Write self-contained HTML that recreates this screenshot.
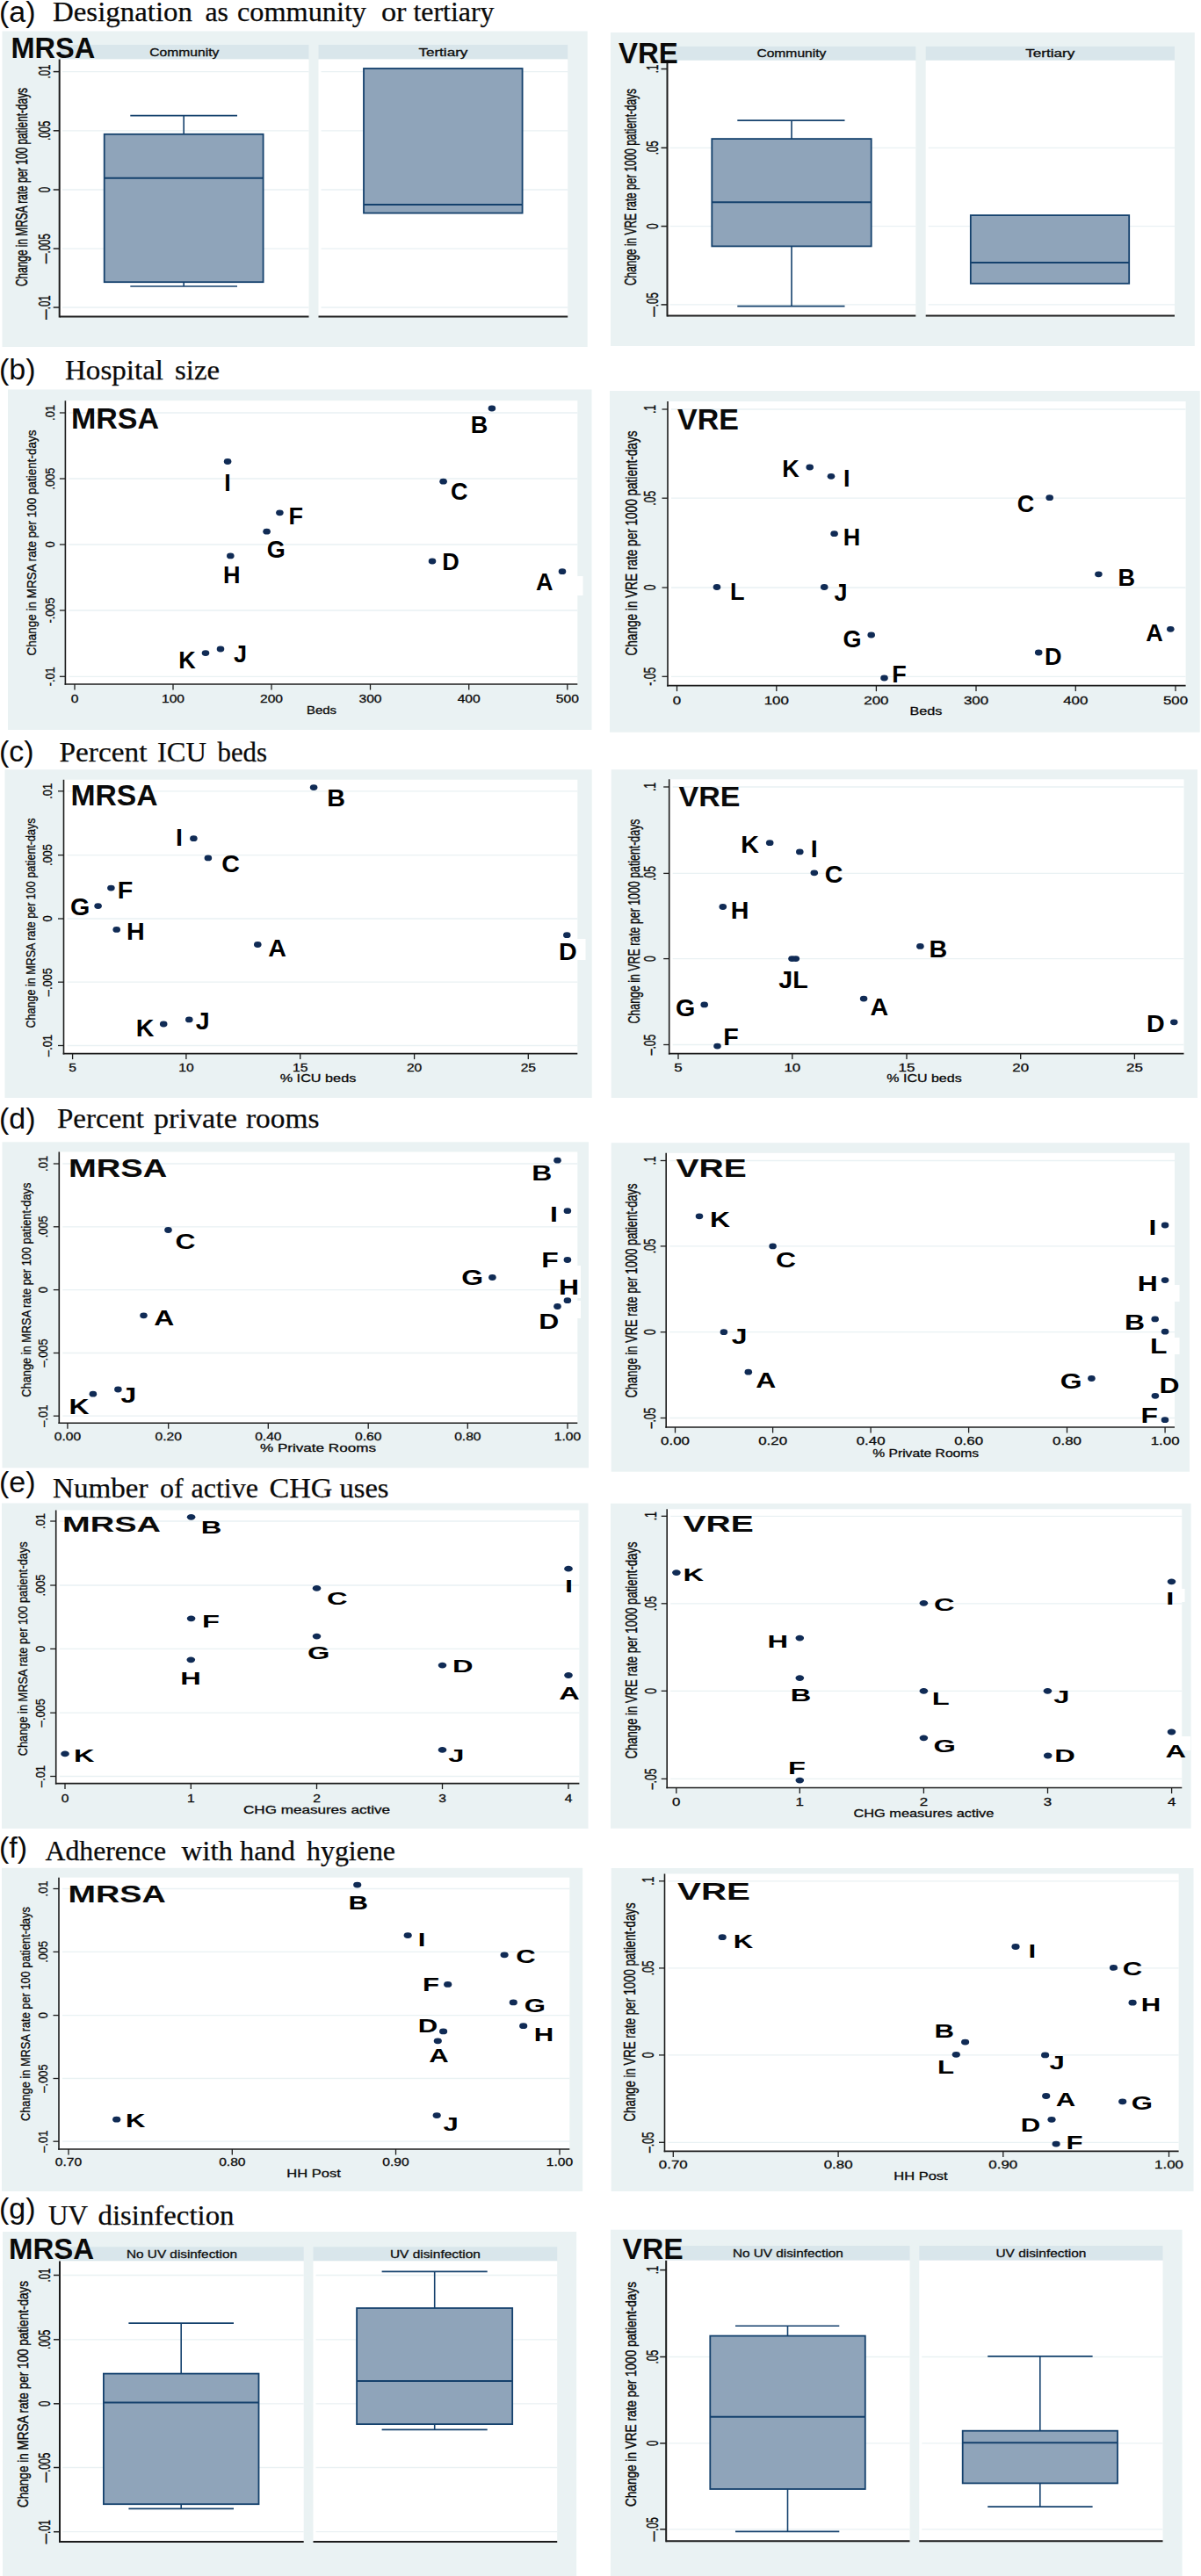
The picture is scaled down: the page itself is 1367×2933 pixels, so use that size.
<!DOCTYPE html>
<html lang="en"><head><meta charset="utf-8"><title>Figure: change in MRSA and VRE rates by hospital characteristics</title>
<style>html,body{margin:0;padding:0;background:#fff}body{width:1367px;height:2933px;overflow:hidden}text{white-space:pre}</style></head>
<body>
<svg width="1367" height="2933" viewBox="0 0 1367 2933" style="display:block">
<g>
<rect x="0" y="0" width="1367" height="2933" fill="#ffffff"/>
<text transform="translate(-1.0,25.3)" font-family="Liberation Sans, Arial, sans-serif" font-size="34" text-anchor="start" fill="#0a0a0a" >(a)</text>
<text x="60.0" y="24.0" font-family="Liberation Serif, Times New Roman, serif" font-size="32" fill="#0a0a0a" stroke="#0a0a0a" stroke-width="0.25" textLength="159.0" lengthAdjust="spacingAndGlyphs">Designation</text>
<text x="233.5" y="24.0" font-family="Liberation Serif, Times New Roman, serif" font-size="32" fill="#0a0a0a" stroke="#0a0a0a" stroke-width="0.25" textLength="26.5" lengthAdjust="spacingAndGlyphs">as</text>
<text x="270.0" y="24.0" font-family="Liberation Serif, Times New Roman, serif" font-size="32" fill="#0a0a0a" stroke="#0a0a0a" stroke-width="0.25" textLength="147.0" lengthAdjust="spacingAndGlyphs">community</text>
<text x="434.0" y="24.0" font-family="Liberation Serif, Times New Roman, serif" font-size="32" fill="#0a0a0a" stroke="#0a0a0a" stroke-width="0.25" textLength="28.5" lengthAdjust="spacingAndGlyphs">or</text>
<text x="470.5" y="24.0" font-family="Liberation Serif, Times New Roman, serif" font-size="32" fill="#0a0a0a" stroke="#0a0a0a" stroke-width="0.25" textLength="92.0" lengthAdjust="spacingAndGlyphs">tertiary</text>
<text transform="translate(-1.0,431.5)" font-family="Liberation Sans, Arial, sans-serif" font-size="34" text-anchor="start" fill="#0a0a0a" >(b)</text>
<text x="74.0" y="431.5" font-family="Liberation Serif, Times New Roman, serif" font-size="32" fill="#0a0a0a" stroke="#0a0a0a" stroke-width="0.25" textLength="112.0" lengthAdjust="spacingAndGlyphs">Hospital</text>
<text x="199.0" y="431.5" font-family="Liberation Serif, Times New Roman, serif" font-size="32" fill="#0a0a0a" stroke="#0a0a0a" stroke-width="0.25" textLength="51.0" lengthAdjust="spacingAndGlyphs">size</text>
<text transform="translate(-1.0,867.0)" font-family="Liberation Sans, Arial, sans-serif" font-size="34" text-anchor="start" fill="#0a0a0a" >(c)</text>
<text x="67.5" y="867.0" font-family="Liberation Serif, Times New Roman, serif" font-size="32" fill="#0a0a0a" stroke="#0a0a0a" stroke-width="0.25" textLength="100.0" lengthAdjust="spacingAndGlyphs">Percent</text>
<text x="179.0" y="867.0" font-family="Liberation Serif, Times New Roman, serif" font-size="32" fill="#0a0a0a" stroke="#0a0a0a" stroke-width="0.25" textLength="56.0" lengthAdjust="spacingAndGlyphs">ICU</text>
<text x="247.5" y="867.0" font-family="Liberation Serif, Times New Roman, serif" font-size="32" fill="#0a0a0a" stroke="#0a0a0a" stroke-width="0.25" textLength="56.5" lengthAdjust="spacingAndGlyphs">beds</text>
<text transform="translate(-1.0,1285.0)" font-family="Liberation Sans, Arial, sans-serif" font-size="34" text-anchor="start" fill="#0a0a0a" >(d)</text>
<text x="65.0" y="1284.0" font-family="Liberation Serif, Times New Roman, serif" font-size="32" fill="#0a0a0a" stroke="#0a0a0a" stroke-width="0.25" textLength="99.0" lengthAdjust="spacingAndGlyphs">Percent</text>
<text x="175.0" y="1284.0" font-family="Liberation Serif, Times New Roman, serif" font-size="32" fill="#0a0a0a" stroke="#0a0a0a" stroke-width="0.25" textLength="95.0" lengthAdjust="spacingAndGlyphs">private</text>
<text x="280.0" y="1284.0" font-family="Liberation Serif, Times New Roman, serif" font-size="32" fill="#0a0a0a" stroke="#0a0a0a" stroke-width="0.25" textLength="83.5" lengthAdjust="spacingAndGlyphs">rooms</text>
<text transform="translate(-1.0,1699.0)" font-family="Liberation Sans, Arial, sans-serif" font-size="34" text-anchor="start" fill="#0a0a0a" >(e)</text>
<text x="60.0" y="1705.0" font-family="Liberation Serif, Times New Roman, serif" font-size="32" fill="#0a0a0a" stroke="#0a0a0a" stroke-width="0.25" textLength="108.5" lengthAdjust="spacingAndGlyphs">Number</text>
<text x="182.0" y="1705.0" font-family="Liberation Serif, Times New Roman, serif" font-size="32" fill="#0a0a0a" stroke="#0a0a0a" stroke-width="0.25" textLength="26.7" lengthAdjust="spacingAndGlyphs">of</text>
<text x="217.5" y="1705.0" font-family="Liberation Serif, Times New Roman, serif" font-size="32" fill="#0a0a0a" stroke="#0a0a0a" stroke-width="0.25" textLength="76.5" lengthAdjust="spacingAndGlyphs">active</text>
<text x="306.5" y="1705.0" font-family="Liberation Serif, Times New Roman, serif" font-size="32" fill="#0a0a0a" stroke="#0a0a0a" stroke-width="0.25" textLength="72.0" lengthAdjust="spacingAndGlyphs">CHG</text>
<text x="386.5" y="1705.0" font-family="Liberation Serif, Times New Roman, serif" font-size="32" fill="#0a0a0a" stroke="#0a0a0a" stroke-width="0.25" textLength="56.0" lengthAdjust="spacingAndGlyphs">uses</text>
<text transform="translate(-1.0,2115.0)" font-family="Liberation Sans, Arial, sans-serif" font-size="34" text-anchor="start" fill="#0a0a0a" >(f)</text>
<text x="51.5" y="2117.5" font-family="Liberation Serif, Times New Roman, serif" font-size="32" fill="#0a0a0a" stroke="#0a0a0a" stroke-width="0.25" textLength="137.5" lengthAdjust="spacingAndGlyphs">Adherence</text>
<text x="206.5" y="2117.5" font-family="Liberation Serif, Times New Roman, serif" font-size="32" fill="#0a0a0a" stroke="#0a0a0a" stroke-width="0.25" textLength="58.5" lengthAdjust="spacingAndGlyphs">with</text>
<text x="273.0" y="2117.5" font-family="Liberation Serif, Times New Roman, serif" font-size="32" fill="#0a0a0a" stroke="#0a0a0a" stroke-width="0.25" textLength="63.0" lengthAdjust="spacingAndGlyphs">hand</text>
<text x="349.0" y="2117.5" font-family="Liberation Serif, Times New Roman, serif" font-size="32" fill="#0a0a0a" stroke="#0a0a0a" stroke-width="0.25" textLength="101.0" lengthAdjust="spacingAndGlyphs">hygiene</text>
<text transform="translate(-1.0,2526.0)" font-family="Liberation Sans, Arial, sans-serif" font-size="34" text-anchor="start" fill="#0a0a0a" >(g)</text>
<text x="55.0" y="2532.5" font-family="Liberation Serif, Times New Roman, serif" font-size="32" fill="#0a0a0a" stroke="#0a0a0a" stroke-width="0.25" textLength="45.0" lengthAdjust="spacingAndGlyphs">UV</text>
<text x="111.5" y="2532.5" font-family="Liberation Serif, Times New Roman, serif" font-size="32" fill="#0a0a0a" stroke="#0a0a0a" stroke-width="0.25" textLength="155.0" lengthAdjust="spacingAndGlyphs">disinfection</text>
<rect x="2.5" y="35.5" width="666.2" height="359.5" fill="#eaf2f3" />
<rect x="68.0" y="51.0" width="283.5" height="16.5" fill="#d9e6eb" />
<rect x="68.0" y="67.5" width="283.5" height="293.0" fill="#ffffff" />
<line x1="71.0" y1="81.6" x2="351.5" y2="81.6" stroke="#e9f1f3" stroke-width="1.3"/>
<line x1="71.0" y1="148.8" x2="351.5" y2="148.8" stroke="#e9f1f3" stroke-width="1.3"/>
<line x1="71.0" y1="216.0" x2="351.5" y2="216.0" stroke="#e9f1f3" stroke-width="1.3"/>
<line x1="71.0" y1="283.1" x2="351.5" y2="283.1" stroke="#e9f1f3" stroke-width="1.3"/>
<line x1="71.0" y1="350.0" x2="351.5" y2="350.0" stroke="#e9f1f3" stroke-width="1.3"/>
<rect x="362.5" y="51.0" width="283.7" height="16.5" fill="#d9e6eb" />
<rect x="362.5" y="67.5" width="283.7" height="293.0" fill="#ffffff" />
<line x1="365.5" y1="81.6" x2="646.2" y2="81.6" stroke="#e9f1f3" stroke-width="1.3"/>
<line x1="365.5" y1="148.8" x2="646.2" y2="148.8" stroke="#e9f1f3" stroke-width="1.3"/>
<line x1="365.5" y1="216.0" x2="646.2" y2="216.0" stroke="#e9f1f3" stroke-width="1.3"/>
<line x1="365.5" y1="283.1" x2="646.2" y2="283.1" stroke="#e9f1f3" stroke-width="1.3"/>
<line x1="365.5" y1="350.0" x2="646.2" y2="350.0" stroke="#e9f1f3" stroke-width="1.3"/>
<line x1="209.2" y1="131.6" x2="209.2" y2="152.8" stroke="#14416d" stroke-width="1.6"/>
<line x1="148.3" y1="131.6" x2="270.0" y2="131.6" stroke="#14416d" stroke-width="1.6"/>
<line x1="209.2" y1="321.2" x2="209.2" y2="326.0" stroke="#14416d" stroke-width="1.6"/>
<line x1="148.3" y1="326.0" x2="270.0" y2="326.0" stroke="#14416d" stroke-width="1.6"/>
<rect x="118.7" y="152.8" width="180.9" height="168.4" fill="#8fa4ba" stroke="#14416d" stroke-width="1.8"/>
<line x1="118.7" y1="202.8" x2="299.6" y2="202.8" stroke="#14416d" stroke-width="2"/>
<rect x="414.0" y="78.0" width="180.6" height="164.6" fill="#8fa4ba" stroke="#14416d" stroke-width="1.8"/>
<line x1="414.0" y1="233.0" x2="594.6" y2="233.0" stroke="#14416d" stroke-width="2"/>
<line x1="68.0" y1="360.5" x2="351.5" y2="360.5" stroke="#1c1c1c" stroke-width="2"/>
<text x="209.8" y="63.5" font-family="Liberation Sans, Arial, sans-serif" font-size="12" text-anchor="middle" fill="#111" textLength="79" lengthAdjust="spacingAndGlyphs" stroke="#0a0a0a" stroke-width="0.3">Community</text>
<line x1="362.5" y1="360.5" x2="646.2" y2="360.5" stroke="#1c1c1c" stroke-width="2"/>
<text x="504.4" y="63.5" font-family="Liberation Sans, Arial, sans-serif" font-size="12" text-anchor="middle" fill="#111" textLength="56" lengthAdjust="spacingAndGlyphs" stroke="#0a0a0a" stroke-width="0.3">Tertiary</text>
<line x1="67.7" y1="67.5" x2="67.7" y2="361.5" stroke="#1c1c1c" stroke-width="2"/>
<line x1="60.7" y1="81.6" x2="67.7" y2="81.6" stroke="#1c1c1c" stroke-width="1.5"/>
<text transform="translate(57.0,81.6) rotate(-90) scale(0.880,1.400)" font-family="Liberation Sans, Arial, sans-serif" font-size="13" text-anchor="middle" fill="#0a0a0a" stroke="#0a0a0a" stroke-width="0.3">.01</text>
<line x1="60.7" y1="148.8" x2="67.7" y2="148.8" stroke="#1c1c1c" stroke-width="1.5"/>
<text transform="translate(57.0,148.8) rotate(-90) scale(0.880,1.400)" font-family="Liberation Sans, Arial, sans-serif" font-size="13" text-anchor="middle" fill="#0a0a0a" stroke="#0a0a0a" stroke-width="0.3">.005</text>
<line x1="60.7" y1="216.0" x2="67.7" y2="216.0" stroke="#1c1c1c" stroke-width="1.5"/>
<text transform="translate(57.0,216.0) rotate(-90) scale(0.880,1.400)" font-family="Liberation Sans, Arial, sans-serif" font-size="13" text-anchor="middle" fill="#0a0a0a" stroke="#0a0a0a" stroke-width="0.3">0</text>
<line x1="60.7" y1="283.1" x2="67.7" y2="283.1" stroke="#1c1c1c" stroke-width="1.5"/>
<text transform="translate(57.0,283.1) rotate(-90) scale(0.880,1.400)" font-family="Liberation Sans, Arial, sans-serif" font-size="13" text-anchor="middle" fill="#0a0a0a" stroke="#0a0a0a" stroke-width="0.3">—.005</text>
<line x1="60.7" y1="350.0" x2="67.7" y2="350.0" stroke="#1c1c1c" stroke-width="1.5"/>
<text transform="translate(57.0,350.0) rotate(-90) scale(0.880,1.400)" font-family="Liberation Sans, Arial, sans-serif" font-size="13" text-anchor="middle" fill="#0a0a0a" stroke="#0a0a0a" stroke-width="0.3">—.01</text>
<text transform="translate(30.5,213.0) scale(1.4,1) rotate(-90)" font-family="Liberation Sans, Arial, sans-serif" font-size="13" text-anchor="middle" fill="#0a0a0a" textLength="226" lengthAdjust="spacingAndGlyphs" stroke="#0a0a0a" stroke-width="0.35">Change in MRSA rate per 100 patient-days</text>
<text transform="translate(12.5,65.5)" font-family="Liberation Sans, Arial, sans-serif" font-size="32.5" font-weight="bold" text-anchor="start" fill="#0a0a0a" >MRSA</text>
<rect x="695.0" y="37.0" width="664.8" height="357.0" fill="#eaf2f3" />
<rect x="759.5" y="52.9" width="282.8" height="15.9" fill="#d9e6eb" />
<rect x="759.5" y="68.8" width="282.8" height="290.6" fill="#ffffff" />
<line x1="762.5" y1="168.3" x2="1042.3" y2="168.3" stroke="#e9f1f3" stroke-width="1.3"/>
<line x1="762.5" y1="257.6" x2="1042.3" y2="257.6" stroke="#e9f1f3" stroke-width="1.3"/>
<line x1="762.5" y1="346.9" x2="1042.3" y2="346.9" stroke="#e9f1f3" stroke-width="1.3"/>
<rect x="1053.7" y="52.9" width="283.3" height="15.9" fill="#d9e6eb" />
<rect x="1053.7" y="68.8" width="283.3" height="290.6" fill="#ffffff" />
<line x1="1056.7" y1="168.3" x2="1337.0" y2="168.3" stroke="#e9f1f3" stroke-width="1.3"/>
<line x1="1056.7" y1="257.6" x2="1337.0" y2="257.6" stroke="#e9f1f3" stroke-width="1.3"/>
<line x1="1056.7" y1="346.9" x2="1337.0" y2="346.9" stroke="#e9f1f3" stroke-width="1.3"/>
<line x1="901.0" y1="137.1" x2="901.0" y2="158.1" stroke="#14416d" stroke-width="1.6"/>
<line x1="839.3" y1="137.1" x2="961.5" y2="137.1" stroke="#14416d" stroke-width="1.6"/>
<line x1="901.0" y1="280.4" x2="901.0" y2="348.6" stroke="#14416d" stroke-width="1.6"/>
<line x1="839.3" y1="348.6" x2="961.5" y2="348.6" stroke="#14416d" stroke-width="1.6"/>
<rect x="810.3" y="158.1" width="181.4" height="122.3" fill="#8fa4ba" stroke="#14416d" stroke-width="1.8"/>
<line x1="810.3" y1="230.3" x2="991.7" y2="230.3" stroke="#14416d" stroke-width="2"/>
<rect x="1104.8" y="245.1" width="180.4" height="77.7" fill="#8fa4ba" stroke="#14416d" stroke-width="1.8"/>
<line x1="1104.8" y1="299.1" x2="1285.2" y2="299.1" stroke="#14416d" stroke-width="2"/>
<line x1="759.5" y1="359.4" x2="1042.3" y2="359.4" stroke="#1c1c1c" stroke-width="2"/>
<text x="900.9" y="65.1" font-family="Liberation Sans, Arial, sans-serif" font-size="12" text-anchor="middle" fill="#111" textLength="79" lengthAdjust="spacingAndGlyphs" stroke="#0a0a0a" stroke-width="0.3">Community</text>
<line x1="1053.7" y1="359.4" x2="1337.0" y2="359.4" stroke="#1c1c1c" stroke-width="2"/>
<text x="1195.3" y="65.1" font-family="Liberation Sans, Arial, sans-serif" font-size="12" text-anchor="middle" fill="#111" textLength="56" lengthAdjust="spacingAndGlyphs" stroke="#0a0a0a" stroke-width="0.3">Tertiary</text>
<line x1="759.5" y1="68.8" x2="759.5" y2="360.4" stroke="#1c1c1c" stroke-width="2"/>
<line x1="752.5" y1="78.5" x2="759.5" y2="78.5" stroke="#1c1c1c" stroke-width="1.5"/>
<text transform="translate(749.1,78.5) rotate(-90) scale(0.880,1.400)" font-family="Liberation Sans, Arial, sans-serif" font-size="13" text-anchor="middle" fill="#0a0a0a" stroke="#0a0a0a" stroke-width="0.3">.1</text>
<line x1="752.5" y1="168.3" x2="759.5" y2="168.3" stroke="#1c1c1c" stroke-width="1.5"/>
<text transform="translate(749.1,168.3) rotate(-90) scale(0.880,1.400)" font-family="Liberation Sans, Arial, sans-serif" font-size="13" text-anchor="middle" fill="#0a0a0a" stroke="#0a0a0a" stroke-width="0.3">.05</text>
<line x1="752.5" y1="257.6" x2="759.5" y2="257.6" stroke="#1c1c1c" stroke-width="1.5"/>
<text transform="translate(749.1,257.6) rotate(-90) scale(0.880,1.400)" font-family="Liberation Sans, Arial, sans-serif" font-size="13" text-anchor="middle" fill="#0a0a0a" stroke="#0a0a0a" stroke-width="0.3">0</text>
<line x1="752.5" y1="346.9" x2="759.5" y2="346.9" stroke="#1c1c1c" stroke-width="1.5"/>
<text transform="translate(749.1,346.9) rotate(-90) scale(0.880,1.400)" font-family="Liberation Sans, Arial, sans-serif" font-size="13" text-anchor="middle" fill="#0a0a0a" stroke="#0a0a0a" stroke-width="0.3">—.05</text>
<text transform="translate(723.8,213.0) scale(1.4,1) rotate(-90)" font-family="Liberation Sans, Arial, sans-serif" font-size="13" text-anchor="middle" fill="#0a0a0a" textLength="224" lengthAdjust="spacingAndGlyphs" stroke="#0a0a0a" stroke-width="0.35">Change in VRE rate per 1000 patient-days</text>
<text transform="translate(704.0,72.0)" font-family="Liberation Sans, Arial, sans-serif" font-size="33" font-weight="bold" text-anchor="start" fill="#0a0a0a" >VRE</text>
<rect x="3.0" y="2541.0" width="653.2" height="392.0" fill="#eaf2f3" />
<rect x="68.3" y="2558.2" width="277.4" height="16.2" fill="#d9e6eb" />
<rect x="68.3" y="2574.4" width="277.4" height="319.6" fill="#ffffff" />
<line x1="71.3" y1="2590.5" x2="345.7" y2="2590.5" stroke="#e9f1f3" stroke-width="1.3"/>
<line x1="71.3" y1="2663.8" x2="345.7" y2="2663.8" stroke="#e9f1f3" stroke-width="1.3"/>
<line x1="71.3" y1="2736.8" x2="345.7" y2="2736.8" stroke="#e9f1f3" stroke-width="1.3"/>
<line x1="71.3" y1="2809.5" x2="345.7" y2="2809.5" stroke="#e9f1f3" stroke-width="1.3"/>
<line x1="71.3" y1="2882.7" x2="345.7" y2="2882.7" stroke="#e9f1f3" stroke-width="1.3"/>
<rect x="356.5" y="2558.2" width="277.7" height="16.2" fill="#d9e6eb" />
<rect x="356.5" y="2574.4" width="277.7" height="319.6" fill="#ffffff" />
<line x1="359.5" y1="2590.5" x2="634.2" y2="2590.5" stroke="#e9f1f3" stroke-width="1.3"/>
<line x1="359.5" y1="2663.8" x2="634.2" y2="2663.8" stroke="#e9f1f3" stroke-width="1.3"/>
<line x1="359.5" y1="2736.8" x2="634.2" y2="2736.8" stroke="#e9f1f3" stroke-width="1.3"/>
<line x1="359.5" y1="2809.5" x2="634.2" y2="2809.5" stroke="#e9f1f3" stroke-width="1.3"/>
<line x1="359.5" y1="2882.7" x2="634.2" y2="2882.7" stroke="#e9f1f3" stroke-width="1.3"/>
<line x1="206.2" y1="2645.1" x2="206.2" y2="2702.6" stroke="#14416d" stroke-width="1.6"/>
<line x1="146.4" y1="2645.1" x2="266.0" y2="2645.1" stroke="#14416d" stroke-width="1.6"/>
<line x1="206.2" y1="2851.2" x2="206.2" y2="2856.4" stroke="#14416d" stroke-width="1.6"/>
<line x1="146.4" y1="2856.4" x2="266.0" y2="2856.4" stroke="#14416d" stroke-width="1.6"/>
<rect x="117.9" y="2702.6" width="176.6" height="148.6" fill="#8fa4ba" stroke="#14416d" stroke-width="1.8"/>
<line x1="117.9" y1="2735.6" x2="294.5" y2="2735.6" stroke="#14416d" stroke-width="2"/>
<line x1="494.7" y1="2586.4" x2="494.7" y2="2628.0" stroke="#14416d" stroke-width="1.6"/>
<line x1="434.6" y1="2586.4" x2="554.7" y2="2586.4" stroke="#14416d" stroke-width="1.6"/>
<line x1="494.7" y1="2760.1" x2="494.7" y2="2766.4" stroke="#14416d" stroke-width="1.6"/>
<line x1="434.6" y1="2766.4" x2="554.7" y2="2766.4" stroke="#14416d" stroke-width="1.6"/>
<rect x="406.1" y="2628.0" width="177.1" height="132.1" fill="#8fa4ba" stroke="#14416d" stroke-width="1.8"/>
<line x1="406.1" y1="2711.1" x2="583.2" y2="2711.1" stroke="#14416d" stroke-width="2"/>
<line x1="68.3" y1="2894.0" x2="345.7" y2="2894.0" stroke="#1c1c1c" stroke-width="2"/>
<text x="207.0" y="2570.6" font-family="Liberation Sans, Arial, sans-serif" font-size="13" text-anchor="middle" fill="#111" textLength="126" lengthAdjust="spacingAndGlyphs" stroke="#0a0a0a" stroke-width="0.3">No UV disinfection</text>
<line x1="356.5" y1="2894.0" x2="634.2" y2="2894.0" stroke="#1c1c1c" stroke-width="2"/>
<text x="495.4" y="2570.6" font-family="Liberation Sans, Arial, sans-serif" font-size="13" text-anchor="middle" fill="#111" textLength="103" lengthAdjust="spacingAndGlyphs" stroke="#0a0a0a" stroke-width="0.3">UV disinfection</text>
<line x1="68.0" y1="2574.4" x2="68.0" y2="2895.0" stroke="#1c1c1c" stroke-width="2"/>
<line x1="61.0" y1="2590.5" x2="68.0" y2="2590.5" stroke="#1c1c1c" stroke-width="1.5"/>
<text transform="translate(56.6,2590.5) rotate(-90) scale(0.880,1.350)" font-family="Liberation Sans, Arial, sans-serif" font-size="13" text-anchor="middle" fill="#0a0a0a" stroke="#0a0a0a" stroke-width="0.3">.01</text>
<line x1="61.0" y1="2663.8" x2="68.0" y2="2663.8" stroke="#1c1c1c" stroke-width="1.5"/>
<text transform="translate(56.6,2663.8) rotate(-90) scale(0.880,1.350)" font-family="Liberation Sans, Arial, sans-serif" font-size="13" text-anchor="middle" fill="#0a0a0a" stroke="#0a0a0a" stroke-width="0.3">.005</text>
<line x1="61.0" y1="2736.8" x2="68.0" y2="2736.8" stroke="#1c1c1c" stroke-width="1.5"/>
<text transform="translate(56.6,2736.8) rotate(-90) scale(0.880,1.350)" font-family="Liberation Sans, Arial, sans-serif" font-size="13" text-anchor="middle" fill="#0a0a0a" stroke="#0a0a0a" stroke-width="0.3">0</text>
<line x1="61.0" y1="2809.5" x2="68.0" y2="2809.5" stroke="#1c1c1c" stroke-width="1.5"/>
<text transform="translate(56.6,2809.5) rotate(-90) scale(0.880,1.350)" font-family="Liberation Sans, Arial, sans-serif" font-size="13" text-anchor="middle" fill="#0a0a0a" stroke="#0a0a0a" stroke-width="0.3">—.005</text>
<line x1="61.0" y1="2882.7" x2="68.0" y2="2882.7" stroke="#1c1c1c" stroke-width="1.5"/>
<text transform="translate(56.6,2882.7) rotate(-90) scale(0.880,1.350)" font-family="Liberation Sans, Arial, sans-serif" font-size="13" text-anchor="middle" fill="#0a0a0a" stroke="#0a0a0a" stroke-width="0.3">—.01</text>
<text transform="translate(31.7,2726.0) scale(1.25,1) rotate(-90)" font-family="Liberation Sans, Arial, sans-serif" font-size="13" text-anchor="middle" fill="#0a0a0a" textLength="258" lengthAdjust="spacingAndGlyphs" stroke="#0a0a0a" stroke-width="0.35">Change in MRSA rate per 100 patient-days</text>
<text transform="translate(10.0,2572.0)" font-family="Liberation Sans, Arial, sans-serif" font-size="33" font-weight="bold" text-anchor="start" fill="#0a0a0a" >MRSA</text>
<rect x="695.0" y="2538.7" width="650.6" height="394.3" fill="#eaf2f3" />
<rect x="758.2" y="2557.0" width="277.3" height="16.7" fill="#d9e6eb" />
<rect x="758.2" y="2573.7" width="277.3" height="319.6" fill="#ffffff" />
<line x1="761.2" y1="2683.5" x2="1035.5" y2="2683.5" stroke="#e9f1f3" stroke-width="1.3"/>
<line x1="761.2" y1="2781.9" x2="1035.5" y2="2781.9" stroke="#e9f1f3" stroke-width="1.3"/>
<line x1="761.2" y1="2879.8" x2="1035.5" y2="2879.8" stroke="#e9f1f3" stroke-width="1.3"/>
<rect x="1046.3" y="2557.0" width="277.2" height="16.7" fill="#d9e6eb" />
<rect x="1046.3" y="2573.7" width="277.2" height="319.6" fill="#ffffff" />
<line x1="1049.3" y1="2683.5" x2="1323.5" y2="2683.5" stroke="#e9f1f3" stroke-width="1.3"/>
<line x1="1049.3" y1="2781.9" x2="1323.5" y2="2781.9" stroke="#e9f1f3" stroke-width="1.3"/>
<line x1="1049.3" y1="2879.8" x2="1323.5" y2="2879.8" stroke="#e9f1f3" stroke-width="1.3"/>
<line x1="896.5" y1="2648.3" x2="896.5" y2="2659.6" stroke="#14416d" stroke-width="1.6"/>
<line x1="837.0" y1="2648.3" x2="955.3" y2="2648.3" stroke="#14416d" stroke-width="1.6"/>
<line x1="896.5" y1="2834.0" x2="896.5" y2="2882.4" stroke="#14416d" stroke-width="1.6"/>
<line x1="837.0" y1="2882.4" x2="955.3" y2="2882.4" stroke="#14416d" stroke-width="1.6"/>
<rect x="808.3" y="2659.6" width="176.5" height="174.4" fill="#8fa4ba" stroke="#14416d" stroke-width="1.8"/>
<line x1="808.3" y1="2751.8" x2="984.8" y2="2751.8" stroke="#14416d" stroke-width="2"/>
<line x1="1183.8" y1="2682.9" x2="1183.8" y2="2767.7" stroke="#14416d" stroke-width="1.6"/>
<line x1="1124.2" y1="2682.9" x2="1243.6" y2="2682.9" stroke="#14416d" stroke-width="1.6"/>
<line x1="1183.8" y1="2827.4" x2="1183.8" y2="2854.1" stroke="#14416d" stroke-width="1.6"/>
<line x1="1124.2" y1="2854.1" x2="1243.6" y2="2854.1" stroke="#14416d" stroke-width="1.6"/>
<rect x="1095.7" y="2767.7" width="176.3" height="59.7" fill="#8fa4ba" stroke="#14416d" stroke-width="1.8"/>
<line x1="1095.7" y1="2781.3" x2="1272.0" y2="2781.3" stroke="#14416d" stroke-width="2"/>
<line x1="758.2" y1="2893.3" x2="1035.5" y2="2893.3" stroke="#1c1c1c" stroke-width="2"/>
<text x="896.9" y="2569.7" font-family="Liberation Sans, Arial, sans-serif" font-size="13" text-anchor="middle" fill="#111" textLength="126" lengthAdjust="spacingAndGlyphs" stroke="#0a0a0a" stroke-width="0.3">No UV disinfection</text>
<line x1="1046.3" y1="2893.3" x2="1323.5" y2="2893.3" stroke="#1c1c1c" stroke-width="2"/>
<text x="1184.9" y="2569.7" font-family="Liberation Sans, Arial, sans-serif" font-size="13" text-anchor="middle" fill="#111" textLength="103" lengthAdjust="spacingAndGlyphs" stroke="#0a0a0a" stroke-width="0.3">UV disinfection</text>
<line x1="758.2" y1="2573.7" x2="758.2" y2="2894.3" stroke="#1c1c1c" stroke-width="2"/>
<line x1="751.2" y1="2584.6" x2="758.2" y2="2584.6" stroke="#1c1c1c" stroke-width="1.5"/>
<text transform="translate(748.9,2584.6) rotate(-90) scale(0.880,1.350)" font-family="Liberation Sans, Arial, sans-serif" font-size="13" text-anchor="middle" fill="#0a0a0a" stroke="#0a0a0a" stroke-width="0.3">.1</text>
<line x1="751.2" y1="2683.5" x2="758.2" y2="2683.5" stroke="#1c1c1c" stroke-width="1.5"/>
<text transform="translate(748.9,2683.5) rotate(-90) scale(0.880,1.350)" font-family="Liberation Sans, Arial, sans-serif" font-size="13" text-anchor="middle" fill="#0a0a0a" stroke="#0a0a0a" stroke-width="0.3">.05</text>
<line x1="751.2" y1="2781.9" x2="758.2" y2="2781.9" stroke="#1c1c1c" stroke-width="1.5"/>
<text transform="translate(748.9,2781.9) rotate(-90) scale(0.880,1.350)" font-family="Liberation Sans, Arial, sans-serif" font-size="13" text-anchor="middle" fill="#0a0a0a" stroke="#0a0a0a" stroke-width="0.3">0</text>
<line x1="751.2" y1="2879.8" x2="758.2" y2="2879.8" stroke="#1c1c1c" stroke-width="1.5"/>
<text transform="translate(748.9,2879.8) rotate(-90) scale(0.880,1.350)" font-family="Liberation Sans, Arial, sans-serif" font-size="13" text-anchor="middle" fill="#0a0a0a" stroke="#0a0a0a" stroke-width="0.3">—.05</text>
<text transform="translate(723.8,2726.0) scale(1.25,1) rotate(-90)" font-family="Liberation Sans, Arial, sans-serif" font-size="13" text-anchor="middle" fill="#0a0a0a" textLength="256" lengthAdjust="spacingAndGlyphs" stroke="#0a0a0a" stroke-width="0.35">Change in VRE rate per 1000 patient-days</text>
<text transform="translate(708.5,2572.0) scale(1.020,1.000)" font-family="Liberation Sans, Arial, sans-serif" font-size="33" font-weight="bold" text-anchor="start" fill="#0a0a0a" >VRE</text>
<rect x="9.0" y="443.5" width="664.5" height="387.5" fill="#eaf2f3" />
<rect x="74.4" y="456.2" width="582.9" height="322.8" fill="#ffffff" />
<line x1="78.4" y1="470.0" x2="657.3" y2="470.0" stroke="#e9f1f3" stroke-width="1.3"/>
<line x1="78.4" y1="545.0" x2="657.3" y2="545.0" stroke="#e9f1f3" stroke-width="1.3"/>
<line x1="78.4" y1="620.0" x2="657.3" y2="620.0" stroke="#e9f1f3" stroke-width="1.3"/>
<line x1="78.4" y1="695.0" x2="657.3" y2="695.0" stroke="#e9f1f3" stroke-width="1.3"/>
<line x1="78.4" y1="770.3" x2="657.3" y2="770.3" stroke="#e9f1f3" stroke-width="1.3"/>
<line x1="74.4" y1="456.2" x2="74.4" y2="779.8" stroke="#1c1c1c" stroke-width="1.6"/>
<line x1="73.6" y1="779.0" x2="657.3" y2="779.0" stroke="#1c1c1c" stroke-width="1.6"/>
<line x1="67.9" y1="470.0" x2="74.4" y2="470.0" stroke="#1c1c1c" stroke-width="1.3"/>
<text transform="translate(62.0,470.0) rotate(-90) scale(0.950,1.100)" font-family="Liberation Sans, Arial, sans-serif" font-size="13.5" text-anchor="middle" fill="#0a0a0a" stroke="#0a0a0a" stroke-width="0.3">.01</text>
<line x1="67.9" y1="545.0" x2="74.4" y2="545.0" stroke="#1c1c1c" stroke-width="1.3"/>
<text transform="translate(62.0,545.0) rotate(-90) scale(0.950,1.100)" font-family="Liberation Sans, Arial, sans-serif" font-size="13.5" text-anchor="middle" fill="#0a0a0a" stroke="#0a0a0a" stroke-width="0.3">.005</text>
<line x1="67.9" y1="620.0" x2="74.4" y2="620.0" stroke="#1c1c1c" stroke-width="1.3"/>
<text transform="translate(62.0,620.0) rotate(-90) scale(0.950,1.100)" font-family="Liberation Sans, Arial, sans-serif" font-size="13.5" text-anchor="middle" fill="#0a0a0a" stroke="#0a0a0a" stroke-width="0.3">0</text>
<line x1="67.9" y1="695.0" x2="74.4" y2="695.0" stroke="#1c1c1c" stroke-width="1.3"/>
<text transform="translate(62.0,695.0) rotate(-90) scale(0.950,1.100)" font-family="Liberation Sans, Arial, sans-serif" font-size="13.5" text-anchor="middle" fill="#0a0a0a" stroke="#0a0a0a" stroke-width="0.3">-.005</text>
<line x1="67.9" y1="770.3" x2="74.4" y2="770.3" stroke="#1c1c1c" stroke-width="1.3"/>
<text transform="translate(62.0,770.3) rotate(-90) scale(0.950,1.100)" font-family="Liberation Sans, Arial, sans-serif" font-size="13.5" text-anchor="middle" fill="#0a0a0a" stroke="#0a0a0a" stroke-width="0.3">-.01</text>
<line x1="85.0" y1="779.0" x2="85.0" y2="785.5" stroke="#1c1c1c" stroke-width="1.3"/>
<text transform="translate(85.0,800.0) scale(1.200,1.000)" font-family="Liberation Sans, Arial, sans-serif" font-size="13" text-anchor="middle" fill="#0a0a0a" stroke="#0a0a0a" stroke-width="0.3">0</text>
<line x1="197.0" y1="779.0" x2="197.0" y2="785.5" stroke="#1c1c1c" stroke-width="1.3"/>
<text transform="translate(197.0,800.0) scale(1.200,1.000)" font-family="Liberation Sans, Arial, sans-serif" font-size="13" text-anchor="middle" fill="#0a0a0a" stroke="#0a0a0a" stroke-width="0.3">100</text>
<line x1="309.0" y1="779.0" x2="309.0" y2="785.5" stroke="#1c1c1c" stroke-width="1.3"/>
<text transform="translate(309.0,800.0) scale(1.200,1.000)" font-family="Liberation Sans, Arial, sans-serif" font-size="13" text-anchor="middle" fill="#0a0a0a" stroke="#0a0a0a" stroke-width="0.3">200</text>
<line x1="421.5" y1="779.0" x2="421.5" y2="785.5" stroke="#1c1c1c" stroke-width="1.3"/>
<text transform="translate(421.5,800.0) scale(1.200,1.000)" font-family="Liberation Sans, Arial, sans-serif" font-size="13" text-anchor="middle" fill="#0a0a0a" stroke="#0a0a0a" stroke-width="0.3">300</text>
<line x1="533.7" y1="779.0" x2="533.7" y2="785.5" stroke="#1c1c1c" stroke-width="1.3"/>
<text transform="translate(533.7,800.0) scale(1.200,1.000)" font-family="Liberation Sans, Arial, sans-serif" font-size="13" text-anchor="middle" fill="#0a0a0a" stroke="#0a0a0a" stroke-width="0.3">400</text>
<line x1="645.8" y1="779.0" x2="645.8" y2="785.5" stroke="#1c1c1c" stroke-width="1.3"/>
<text transform="translate(645.8,800.0) scale(1.200,1.000)" font-family="Liberation Sans, Arial, sans-serif" font-size="13" text-anchor="middle" fill="#0a0a0a" stroke="#0a0a0a" stroke-width="0.3">500</text>
<text x="366.0" y="813.2" font-family="Liberation Sans, Arial, sans-serif" font-size="13" text-anchor="middle" fill="#0a0a0a" textLength="34" lengthAdjust="spacingAndGlyphs" stroke="#0a0a0a" stroke-width="0.3">Beds</text>
<text transform="translate(40.5,618.0) scale(1.100,1) rotate(-90)" font-family="Liberation Sans, Arial, sans-serif" font-size="13.5" text-anchor="middle" fill="#0a0a0a" textLength="257" lengthAdjust="spacingAndGlyphs" stroke="#0a0a0a" stroke-width="0.3">Change in MRSA rate per 100 patient-days</text>
<text transform="translate(81.0,487.8) scale(1.030,1.000)" font-family="Liberation Sans, Arial, sans-serif" font-size="33" font-weight="bold" text-anchor="start" fill="#0a0a0a" >MRSA</text>
<rect x="657.0" y="656.0" width="6.5" height="22.0" fill="#ffffff" />
<ellipse cx="559.9" cy="465.0" rx="4.3" ry="3.4" fill="#102b55"/>
<ellipse cx="259.1" cy="525.5" rx="4.3" ry="3.4" fill="#102b55"/>
<ellipse cx="504.6" cy="548.2" rx="4.3" ry="3.4" fill="#102b55"/>
<ellipse cx="318.4" cy="583.8" rx="4.3" ry="3.4" fill="#102b55"/>
<ellipse cx="303.6" cy="605.2" rx="4.3" ry="3.4" fill="#102b55"/>
<ellipse cx="262.3" cy="632.9" rx="4.3" ry="3.4" fill="#102b55"/>
<ellipse cx="492.0" cy="639.0" rx="4.3" ry="3.4" fill="#102b55"/>
<ellipse cx="640.0" cy="650.7" rx="4.3" ry="3.4" fill="#102b55"/>
<ellipse cx="251.0" cy="739.0" rx="4.3" ry="3.4" fill="#102b55"/>
<ellipse cx="234.0" cy="743.6" rx="4.3" ry="3.4" fill="#102b55"/>
<text transform="translate(545.6,492.8) scale(0.971,1.000)" font-family="Liberation Sans, Arial, sans-serif" font-size="27.825000000000003" font-weight="bold" text-anchor="middle" fill="#000" >B</text>
<text transform="translate(259.1,558.7) scale(0.971,1.000)" font-family="Liberation Sans, Arial, sans-serif" font-size="27.825000000000003" font-weight="bold" text-anchor="middle" fill="#000" >I</text>
<text transform="translate(522.8,569.1) scale(0.971,1.000)" font-family="Liberation Sans, Arial, sans-serif" font-size="27.825000000000003" font-weight="bold" text-anchor="middle" fill="#000" >C</text>
<text transform="translate(336.8,596.6) scale(0.971,1.000)" font-family="Liberation Sans, Arial, sans-serif" font-size="27.825000000000003" font-weight="bold" text-anchor="middle" fill="#000" >F</text>
<text transform="translate(314.2,634.5) scale(0.971,1.000)" font-family="Liberation Sans, Arial, sans-serif" font-size="27.825000000000003" font-weight="bold" text-anchor="middle" fill="#000" >G</text>
<text transform="translate(263.7,663.8) scale(0.971,1.000)" font-family="Liberation Sans, Arial, sans-serif" font-size="27.825000000000003" font-weight="bold" text-anchor="middle" fill="#000" >H</text>
<text transform="translate(513.0,648.5) scale(0.971,1.000)" font-family="Liberation Sans, Arial, sans-serif" font-size="27.825000000000003" font-weight="bold" text-anchor="middle" fill="#000" >D</text>
<text transform="translate(619.7,672.2) scale(0.971,1.000)" font-family="Liberation Sans, Arial, sans-serif" font-size="27.825000000000003" font-weight="bold" text-anchor="middle" fill="#000" >A</text>
<text transform="translate(273.4,754.2) scale(0.971,1.000)" font-family="Liberation Sans, Arial, sans-serif" font-size="27.825000000000003" font-weight="bold" text-anchor="middle" fill="#000" >J</text>
<text transform="translate(213.0,760.5) scale(0.971,1.000)" font-family="Liberation Sans, Arial, sans-serif" font-size="27.825000000000003" font-weight="bold" text-anchor="middle" fill="#000" >K</text>
<rect x="694.0" y="445.0" width="671.7" height="388.8" fill="#eaf2f3" />
<rect x="760.0" y="457.0" width="589.6" height="323.6" fill="#ffffff" />
<line x1="764.0" y1="466.0" x2="1349.6" y2="466.0" stroke="#e9f1f3" stroke-width="1.3"/>
<line x1="764.0" y1="567.2" x2="1349.6" y2="567.2" stroke="#e9f1f3" stroke-width="1.3"/>
<line x1="764.0" y1="669.0" x2="1349.6" y2="669.0" stroke="#e9f1f3" stroke-width="1.3"/>
<line x1="764.0" y1="770.3" x2="1349.6" y2="770.3" stroke="#e9f1f3" stroke-width="1.3"/>
<line x1="760.0" y1="457.0" x2="760.0" y2="781.4" stroke="#1c1c1c" stroke-width="1.6"/>
<line x1="759.2" y1="780.6" x2="1349.6" y2="780.6" stroke="#1c1c1c" stroke-width="1.6"/>
<line x1="753.5" y1="466.0" x2="760.0" y2="466.0" stroke="#1c1c1c" stroke-width="1.3"/>
<text transform="translate(745.5,466.0) rotate(-90) scale(0.900,1.300)" font-family="Liberation Sans, Arial, sans-serif" font-size="13.5" text-anchor="middle" fill="#0a0a0a" stroke="#0a0a0a" stroke-width="0.3">.1</text>
<line x1="753.5" y1="567.2" x2="760.0" y2="567.2" stroke="#1c1c1c" stroke-width="1.3"/>
<text transform="translate(745.5,567.2) rotate(-90) scale(0.900,1.300)" font-family="Liberation Sans, Arial, sans-serif" font-size="13.5" text-anchor="middle" fill="#0a0a0a" stroke="#0a0a0a" stroke-width="0.3">.05</text>
<line x1="753.5" y1="669.0" x2="760.0" y2="669.0" stroke="#1c1c1c" stroke-width="1.3"/>
<text transform="translate(745.5,669.0) rotate(-90) scale(0.900,1.300)" font-family="Liberation Sans, Arial, sans-serif" font-size="13.5" text-anchor="middle" fill="#0a0a0a" stroke="#0a0a0a" stroke-width="0.3">0</text>
<line x1="753.5" y1="770.3" x2="760.0" y2="770.3" stroke="#1c1c1c" stroke-width="1.3"/>
<text transform="translate(745.5,770.3) rotate(-90) scale(0.900,1.300)" font-family="Liberation Sans, Arial, sans-serif" font-size="13.5" text-anchor="middle" fill="#0a0a0a" stroke="#0a0a0a" stroke-width="0.3">-.05</text>
<line x1="770.5" y1="780.6" x2="770.5" y2="787.1" stroke="#1c1c1c" stroke-width="1.3"/>
<text transform="translate(770.5,802.0) scale(1.300,1.000)" font-family="Liberation Sans, Arial, sans-serif" font-size="13" text-anchor="middle" fill="#0a0a0a" stroke="#0a0a0a" stroke-width="0.3">0</text>
<line x1="883.8" y1="780.6" x2="883.8" y2="787.1" stroke="#1c1c1c" stroke-width="1.3"/>
<text transform="translate(883.8,802.0) scale(1.300,1.000)" font-family="Liberation Sans, Arial, sans-serif" font-size="13" text-anchor="middle" fill="#0a0a0a" stroke="#0a0a0a" stroke-width="0.3">100</text>
<line x1="997.4" y1="780.6" x2="997.4" y2="787.1" stroke="#1c1c1c" stroke-width="1.3"/>
<text transform="translate(997.4,802.0) scale(1.300,1.000)" font-family="Liberation Sans, Arial, sans-serif" font-size="13" text-anchor="middle" fill="#0a0a0a" stroke="#0a0a0a" stroke-width="0.3">200</text>
<line x1="1111.0" y1="780.6" x2="1111.0" y2="787.1" stroke="#1c1c1c" stroke-width="1.3"/>
<text transform="translate(1111.0,802.0) scale(1.300,1.000)" font-family="Liberation Sans, Arial, sans-serif" font-size="13" text-anchor="middle" fill="#0a0a0a" stroke="#0a0a0a" stroke-width="0.3">300</text>
<line x1="1224.3" y1="780.6" x2="1224.3" y2="787.1" stroke="#1c1c1c" stroke-width="1.3"/>
<text transform="translate(1224.3,802.0) scale(1.300,1.000)" font-family="Liberation Sans, Arial, sans-serif" font-size="13" text-anchor="middle" fill="#0a0a0a" stroke="#0a0a0a" stroke-width="0.3">400</text>
<line x1="1338.0" y1="780.6" x2="1338.0" y2="787.1" stroke="#1c1c1c" stroke-width="1.3"/>
<text transform="translate(1338.0,802.0) scale(1.300,1.000)" font-family="Liberation Sans, Arial, sans-serif" font-size="13" text-anchor="middle" fill="#0a0a0a" stroke="#0a0a0a" stroke-width="0.3">500</text>
<text x="1054.0" y="814.3" font-family="Liberation Sans, Arial, sans-serif" font-size="13" text-anchor="middle" fill="#0a0a0a" textLength="37" lengthAdjust="spacingAndGlyphs" stroke="#0a0a0a" stroke-width="0.3">Beds</text>
<text transform="translate(724.9,618.5) scale(1.300,1) rotate(-90)" font-family="Liberation Sans, Arial, sans-serif" font-size="13.5" text-anchor="middle" fill="#0a0a0a" textLength="256" lengthAdjust="spacingAndGlyphs" stroke="#0a0a0a" stroke-width="0.3">Change in VRE rate per 1000 patient-days</text>
<text transform="translate(771.0,489.0) scale(1.030,1.000)" font-family="Liberation Sans, Arial, sans-serif" font-size="33" font-weight="bold" text-anchor="start" fill="#0a0a0a" >VRE</text>
<ellipse cx="921.7" cy="532.0" rx="4.3" ry="3.4" fill="#102b55"/>
<ellipse cx="946.0" cy="542.3" rx="4.3" ry="3.4" fill="#102b55"/>
<ellipse cx="1194.7" cy="566.7" rx="4.3" ry="3.4" fill="#102b55"/>
<ellipse cx="949.6" cy="607.7" rx="4.3" ry="3.4" fill="#102b55"/>
<ellipse cx="1250.4" cy="653.8" rx="4.3" ry="3.4" fill="#102b55"/>
<ellipse cx="816.0" cy="668.5" rx="4.3" ry="3.4" fill="#102b55"/>
<ellipse cx="938.2" cy="668.5" rx="4.3" ry="3.4" fill="#102b55"/>
<ellipse cx="1332.3" cy="716.3" rx="4.3" ry="3.4" fill="#102b55"/>
<ellipse cx="991.7" cy="723.0" rx="4.3" ry="3.4" fill="#102b55"/>
<ellipse cx="1182.2" cy="743.0" rx="4.3" ry="3.4" fill="#102b55"/>
<ellipse cx="1006.5" cy="772.0" rx="4.3" ry="3.4" fill="#102b55"/>
<text transform="translate(900.0,543.3) scale(0.971,1.000)" font-family="Liberation Sans, Arial, sans-serif" font-size="27.825000000000003" font-weight="bold" text-anchor="middle" fill="#000" >K</text>
<text transform="translate(963.8,554.1) scale(0.971,1.000)" font-family="Liberation Sans, Arial, sans-serif" font-size="27.825000000000003" font-weight="bold" text-anchor="middle" fill="#000" >I</text>
<text transform="translate(1167.4,582.5) scale(0.971,1.000)" font-family="Liberation Sans, Arial, sans-serif" font-size="27.825000000000003" font-weight="bold" text-anchor="middle" fill="#000" >C</text>
<text transform="translate(969.5,621.2) scale(0.971,1.000)" font-family="Liberation Sans, Arial, sans-serif" font-size="27.825000000000003" font-weight="bold" text-anchor="middle" fill="#000" >H</text>
<text transform="translate(1282.3,667.2) scale(0.971,1.000)" font-family="Liberation Sans, Arial, sans-serif" font-size="27.825000000000003" font-weight="bold" text-anchor="middle" fill="#000" >B</text>
<text transform="translate(839.3,683.2) scale(0.971,1.000)" font-family="Liberation Sans, Arial, sans-serif" font-size="27.825000000000003" font-weight="bold" text-anchor="middle" fill="#000" >L</text>
<text transform="translate(957.0,684.3) scale(0.971,1.000)" font-family="Liberation Sans, Arial, sans-serif" font-size="27.825000000000003" font-weight="bold" text-anchor="middle" fill="#000" >J</text>
<text transform="translate(1314.0,730.4) scale(0.971,1.000)" font-family="Liberation Sans, Arial, sans-serif" font-size="27.825000000000003" font-weight="bold" text-anchor="middle" fill="#000" >A</text>
<text transform="translate(970.0,737.2) scale(0.971,1.000)" font-family="Liberation Sans, Arial, sans-serif" font-size="27.825000000000003" font-weight="bold" text-anchor="middle" fill="#000" >G</text>
<text transform="translate(1198.7,756.5) scale(0.971,1.000)" font-family="Liberation Sans, Arial, sans-serif" font-size="27.825000000000003" font-weight="bold" text-anchor="middle" fill="#000" >D</text>
<text transform="translate(1023.5,776.5) scale(0.971,1.000)" font-family="Liberation Sans, Arial, sans-serif" font-size="27.825000000000003" font-weight="bold" text-anchor="middle" fill="#000" >F</text>
<rect x="5.5" y="876.2" width="668.2" height="373.8" fill="#eaf2f3" />
<rect x="72.5" y="887.7" width="584.8" height="311.9" fill="#ffffff" />
<line x1="76.5" y1="900.8" x2="657.3" y2="900.8" stroke="#e9f1f3" stroke-width="1.3"/>
<line x1="76.5" y1="973.6" x2="657.3" y2="973.6" stroke="#e9f1f3" stroke-width="1.3"/>
<line x1="76.5" y1="1046.0" x2="657.3" y2="1046.0" stroke="#e9f1f3" stroke-width="1.3"/>
<line x1="76.5" y1="1118.2" x2="657.3" y2="1118.2" stroke="#e9f1f3" stroke-width="1.3"/>
<line x1="76.5" y1="1190.5" x2="657.3" y2="1190.5" stroke="#e9f1f3" stroke-width="1.3"/>
<line x1="72.5" y1="887.7" x2="72.5" y2="1200.4" stroke="#1c1c1c" stroke-width="1.6"/>
<line x1="71.7" y1="1199.6" x2="657.3" y2="1199.6" stroke="#1c1c1c" stroke-width="1.6"/>
<line x1="66.0" y1="900.8" x2="72.5" y2="900.8" stroke="#1c1c1c" stroke-width="1.3"/>
<text transform="translate(59.0,900.8) rotate(-90) scale(0.950,1.100)" font-family="Liberation Sans, Arial, sans-serif" font-size="13.5" text-anchor="middle" fill="#0a0a0a" stroke="#0a0a0a" stroke-width="0.3">.01</text>
<line x1="66.0" y1="973.6" x2="72.5" y2="973.6" stroke="#1c1c1c" stroke-width="1.3"/>
<text transform="translate(59.0,973.6) rotate(-90) scale(0.950,1.100)" font-family="Liberation Sans, Arial, sans-serif" font-size="13.5" text-anchor="middle" fill="#0a0a0a" stroke="#0a0a0a" stroke-width="0.3">.005</text>
<line x1="66.0" y1="1046.0" x2="72.5" y2="1046.0" stroke="#1c1c1c" stroke-width="1.3"/>
<text transform="translate(59.0,1046.0) rotate(-90) scale(0.950,1.100)" font-family="Liberation Sans, Arial, sans-serif" font-size="13.5" text-anchor="middle" fill="#0a0a0a" stroke="#0a0a0a" stroke-width="0.3">0</text>
<line x1="66.0" y1="1118.2" x2="72.5" y2="1118.2" stroke="#1c1c1c" stroke-width="1.3"/>
<text transform="translate(59.0,1118.2) rotate(-90) scale(0.950,1.100)" font-family="Liberation Sans, Arial, sans-serif" font-size="13.5" text-anchor="middle" fill="#0a0a0a" stroke="#0a0a0a" stroke-width="0.3">–.005</text>
<line x1="66.0" y1="1190.5" x2="72.5" y2="1190.5" stroke="#1c1c1c" stroke-width="1.3"/>
<text transform="translate(59.0,1190.5) rotate(-90) scale(0.950,1.100)" font-family="Liberation Sans, Arial, sans-serif" font-size="13.5" text-anchor="middle" fill="#0a0a0a" stroke="#0a0a0a" stroke-width="0.3">–.01</text>
<line x1="82.6" y1="1199.6" x2="82.6" y2="1206.1" stroke="#1c1c1c" stroke-width="1.3"/>
<text transform="translate(82.6,1220.2) scale(1.200,1.000)" font-family="Liberation Sans, Arial, sans-serif" font-size="13" text-anchor="middle" fill="#0a0a0a" stroke="#0a0a0a" stroke-width="0.3">5</text>
<line x1="211.9" y1="1199.6" x2="211.9" y2="1206.1" stroke="#1c1c1c" stroke-width="1.3"/>
<text transform="translate(211.9,1220.2) scale(1.200,1.000)" font-family="Liberation Sans, Arial, sans-serif" font-size="13" text-anchor="middle" fill="#0a0a0a" stroke="#0a0a0a" stroke-width="0.3">10</text>
<line x1="341.7" y1="1199.6" x2="341.7" y2="1206.1" stroke="#1c1c1c" stroke-width="1.3"/>
<text transform="translate(341.7,1220.2) scale(1.200,1.000)" font-family="Liberation Sans, Arial, sans-serif" font-size="13" text-anchor="middle" fill="#0a0a0a" stroke="#0a0a0a" stroke-width="0.3">15</text>
<line x1="471.6" y1="1199.6" x2="471.6" y2="1206.1" stroke="#1c1c1c" stroke-width="1.3"/>
<text transform="translate(471.6,1220.2) scale(1.200,1.000)" font-family="Liberation Sans, Arial, sans-serif" font-size="13" text-anchor="middle" fill="#0a0a0a" stroke="#0a0a0a" stroke-width="0.3">20</text>
<line x1="601.3" y1="1199.6" x2="601.3" y2="1206.1" stroke="#1c1c1c" stroke-width="1.3"/>
<text transform="translate(601.3,1220.2) scale(1.200,1.000)" font-family="Liberation Sans, Arial, sans-serif" font-size="13" text-anchor="middle" fill="#0a0a0a" stroke="#0a0a0a" stroke-width="0.3">25</text>
<text x="362.0" y="1232.2" font-family="Liberation Sans, Arial, sans-serif" font-size="13" text-anchor="middle" fill="#0a0a0a" textLength="86.6" lengthAdjust="spacingAndGlyphs" stroke="#0a0a0a" stroke-width="0.3">% ICU beds</text>
<text transform="translate(39.9,1051.0) scale(1.100,1) rotate(-90)" font-family="Liberation Sans, Arial, sans-serif" font-size="13.5" text-anchor="middle" fill="#0a0a0a" textLength="239" lengthAdjust="spacingAndGlyphs" stroke="#0a0a0a" stroke-width="0.3">Change in MRSA rate per 100 patient-days</text>
<text transform="translate(80.5,916.5) scale(1.020,1.000)" font-family="Liberation Sans, Arial, sans-serif" font-size="33" font-weight="bold" text-anchor="start" fill="#0a0a0a" >MRSA</text>
<rect x="657.0" y="1069.0" width="9.5" height="24.0" fill="#ffffff" />
<ellipse cx="357.1" cy="896.6" rx="4.3" ry="3.4" fill="#102b55"/>
<ellipse cx="220.4" cy="954.7" rx="4.3" ry="3.4" fill="#102b55"/>
<ellipse cx="236.9" cy="976.9" rx="4.3" ry="3.4" fill="#102b55"/>
<ellipse cx="126.4" cy="1011.1" rx="4.3" ry="3.4" fill="#102b55"/>
<ellipse cx="111.6" cy="1031.6" rx="4.3" ry="3.4" fill="#102b55"/>
<ellipse cx="132.7" cy="1058.4" rx="4.3" ry="3.4" fill="#102b55"/>
<ellipse cx="293.3" cy="1075.5" rx="4.3" ry="3.4" fill="#102b55"/>
<ellipse cx="645.3" cy="1064.7" rx="4.3" ry="3.4" fill="#102b55"/>
<ellipse cx="215.3" cy="1160.9" rx="4.3" ry="3.4" fill="#102b55"/>
<ellipse cx="186.2" cy="1166.0" rx="4.3" ry="3.4" fill="#102b55"/>
<text transform="translate(382.7,917.9) scale(1.049,1.000)" font-family="Liberation Sans, Arial, sans-serif" font-size="27.3" font-weight="bold" text-anchor="middle" fill="#000" >B</text>
<text transform="translate(203.9,962.9) scale(1.049,1.000)" font-family="Liberation Sans, Arial, sans-serif" font-size="27.3" font-weight="bold" text-anchor="middle" fill="#000" >I</text>
<text transform="translate(262.6,993.1) scale(1.049,1.000)" font-family="Liberation Sans, Arial, sans-serif" font-size="27.3" font-weight="bold" text-anchor="middle" fill="#000" >C</text>
<text transform="translate(142.4,1023.3) scale(1.049,1.000)" font-family="Liberation Sans, Arial, sans-serif" font-size="27.3" font-weight="bold" text-anchor="middle" fill="#000" >F</text>
<text transform="translate(91.1,1042.1) scale(1.049,1.000)" font-family="Liberation Sans, Arial, sans-serif" font-size="27.3" font-weight="bold" text-anchor="middle" fill="#000" >G</text>
<text transform="translate(154.3,1070.0) scale(1.049,1.000)" font-family="Liberation Sans, Arial, sans-serif" font-size="27.3" font-weight="bold" text-anchor="middle" fill="#000" >H</text>
<text transform="translate(315.5,1089.3) scale(1.049,1.000)" font-family="Liberation Sans, Arial, sans-serif" font-size="27.3" font-weight="bold" text-anchor="middle" fill="#000" >A</text>
<text transform="translate(646.4,1092.7) scale(1.049,1.000)" font-family="Liberation Sans, Arial, sans-serif" font-size="27.3" font-weight="bold" text-anchor="middle" fill="#000" >D</text>
<text transform="translate(230.7,1171.9) scale(1.049,1.000)" font-family="Liberation Sans, Arial, sans-serif" font-size="27.3" font-weight="bold" text-anchor="middle" fill="#000" >J</text>
<text transform="translate(165.2,1179.9) scale(1.049,1.000)" font-family="Liberation Sans, Arial, sans-serif" font-size="27.3" font-weight="bold" text-anchor="middle" fill="#000" >K</text>
<rect x="695.7" y="876.2" width="667.3" height="373.8" fill="#eaf2f3" />
<rect x="761.7" y="887.3" width="585.8" height="312.3" fill="#ffffff" />
<line x1="765.7" y1="896.0" x2="1347.5" y2="896.0" stroke="#e9f1f3" stroke-width="1.3"/>
<line x1="765.7" y1="994.4" x2="1347.5" y2="994.4" stroke="#e9f1f3" stroke-width="1.3"/>
<line x1="765.7" y1="1091.6" x2="1347.5" y2="1091.6" stroke="#e9f1f3" stroke-width="1.3"/>
<line x1="765.7" y1="1189.5" x2="1347.5" y2="1189.5" stroke="#e9f1f3" stroke-width="1.3"/>
<line x1="761.7" y1="887.3" x2="761.7" y2="1200.4" stroke="#1c1c1c" stroke-width="1.6"/>
<line x1="760.9" y1="1199.6" x2="1347.5" y2="1199.6" stroke="#1c1c1c" stroke-width="1.6"/>
<line x1="755.2" y1="896.0" x2="761.7" y2="896.0" stroke="#1c1c1c" stroke-width="1.3"/>
<text transform="translate(745.8,896.0) rotate(-90) scale(0.900,1.300)" font-family="Liberation Sans, Arial, sans-serif" font-size="13.5" text-anchor="middle" fill="#0a0a0a" stroke="#0a0a0a" stroke-width="0.3">.1</text>
<line x1="755.2" y1="994.4" x2="761.7" y2="994.4" stroke="#1c1c1c" stroke-width="1.3"/>
<text transform="translate(745.8,994.4) rotate(-90) scale(0.900,1.300)" font-family="Liberation Sans, Arial, sans-serif" font-size="13.5" text-anchor="middle" fill="#0a0a0a" stroke="#0a0a0a" stroke-width="0.3">.05</text>
<line x1="755.2" y1="1091.6" x2="761.7" y2="1091.6" stroke="#1c1c1c" stroke-width="1.3"/>
<text transform="translate(745.8,1091.6) rotate(-90) scale(0.900,1.300)" font-family="Liberation Sans, Arial, sans-serif" font-size="13.5" text-anchor="middle" fill="#0a0a0a" stroke="#0a0a0a" stroke-width="0.3">0</text>
<line x1="755.2" y1="1189.5" x2="761.7" y2="1189.5" stroke="#1c1c1c" stroke-width="1.3"/>
<text transform="translate(745.8,1189.5) rotate(-90) scale(0.900,1.300)" font-family="Liberation Sans, Arial, sans-serif" font-size="13.5" text-anchor="middle" fill="#0a0a0a" stroke="#0a0a0a" stroke-width="0.3">–.05</text>
<line x1="772.0" y1="1199.6" x2="772.0" y2="1206.1" stroke="#1c1c1c" stroke-width="1.3"/>
<text transform="translate(772.0,1219.9) scale(1.300,1.000)" font-family="Liberation Sans, Arial, sans-serif" font-size="13" text-anchor="middle" fill="#0a0a0a" stroke="#0a0a0a" stroke-width="0.3">5</text>
<line x1="901.8" y1="1199.6" x2="901.8" y2="1206.1" stroke="#1c1c1c" stroke-width="1.3"/>
<text transform="translate(901.8,1219.9) scale(1.300,1.000)" font-family="Liberation Sans, Arial, sans-serif" font-size="13" text-anchor="middle" fill="#0a0a0a" stroke="#0a0a0a" stroke-width="0.3">10</text>
<line x1="1032.0" y1="1199.6" x2="1032.0" y2="1206.1" stroke="#1c1c1c" stroke-width="1.3"/>
<text transform="translate(1032.0,1219.9) scale(1.300,1.000)" font-family="Liberation Sans, Arial, sans-serif" font-size="13" text-anchor="middle" fill="#0a0a0a" stroke="#0a0a0a" stroke-width="0.3">15</text>
<line x1="1161.7" y1="1199.6" x2="1161.7" y2="1206.1" stroke="#1c1c1c" stroke-width="1.3"/>
<text transform="translate(1161.7,1219.9) scale(1.300,1.000)" font-family="Liberation Sans, Arial, sans-serif" font-size="13" text-anchor="middle" fill="#0a0a0a" stroke="#0a0a0a" stroke-width="0.3">20</text>
<line x1="1291.4" y1="1199.6" x2="1291.4" y2="1206.1" stroke="#1c1c1c" stroke-width="1.3"/>
<text transform="translate(1291.4,1219.9) scale(1.300,1.000)" font-family="Liberation Sans, Arial, sans-serif" font-size="13" text-anchor="middle" fill="#0a0a0a" stroke="#0a0a0a" stroke-width="0.3">25</text>
<text x="1052.0" y="1232.0" font-family="Liberation Sans, Arial, sans-serif" font-size="13" text-anchor="middle" fill="#0a0a0a" textLength="85.3" lengthAdjust="spacingAndGlyphs" stroke="#0a0a0a" stroke-width="0.3">% ICU beds</text>
<text transform="translate(728.3,1049.0) scale(1.300,1) rotate(-90)" font-family="Liberation Sans, Arial, sans-serif" font-size="13.5" text-anchor="middle" fill="#0a0a0a" textLength="233" lengthAdjust="spacingAndGlyphs" stroke="#0a0a0a" stroke-width="0.3">Change in VRE rate per 1000 patient-days</text>
<text transform="translate(772.5,918.0) scale(1.080,1.000)" font-family="Liberation Sans, Arial, sans-serif" font-size="31.5" font-weight="bold" text-anchor="start" fill="#0a0a0a" >VRE</text>
<ellipse cx="876.2" cy="959.7" rx="4.3" ry="3.4" fill="#102b55"/>
<ellipse cx="910.3" cy="969.9" rx="4.3" ry="3.4" fill="#102b55"/>
<ellipse cx="926.8" cy="993.8" rx="4.3" ry="3.4" fill="#102b55"/>
<ellipse cx="822.8" cy="1032.5" rx="4.3" ry="3.4" fill="#102b55"/>
<ellipse cx="1047.4" cy="1077.4" rx="4.3" ry="3.4" fill="#102b55"/>
<ellipse cx="901.5" cy="1091.6" rx="4.3" ry="3.4" fill="#102b55"/>
<ellipse cx="905.8" cy="1091.6" rx="4.3" ry="3.4" fill="#102b55"/>
<ellipse cx="983.1" cy="1137.1" rx="4.3" ry="3.4" fill="#102b55"/>
<ellipse cx="801.7" cy="1143.9" rx="4.3" ry="3.4" fill="#102b55"/>
<ellipse cx="1336.3" cy="1163.8" rx="4.3" ry="3.4" fill="#102b55"/>
<ellipse cx="816.5" cy="1191.1" rx="4.3" ry="3.4" fill="#102b55"/>
<text transform="translate(853.5,970.7) scale(1.049,1.000)" font-family="Liberation Sans, Arial, sans-serif" font-size="27.3" font-weight="bold" text-anchor="middle" fill="#000" >K</text>
<text transform="translate(926.8,975.8) scale(1.049,1.000)" font-family="Liberation Sans, Arial, sans-serif" font-size="27.3" font-weight="bold" text-anchor="middle" fill="#000" >I</text>
<text transform="translate(949.0,1004.8) scale(1.049,1.000)" font-family="Liberation Sans, Arial, sans-serif" font-size="27.3" font-weight="bold" text-anchor="middle" fill="#000" >C</text>
<text transform="translate(842.0,1046.3) scale(1.049,1.000)" font-family="Liberation Sans, Arial, sans-serif" font-size="27.3" font-weight="bold" text-anchor="middle" fill="#000" >H</text>
<text transform="translate(1067.9,1090.1) scale(1.049,1.000)" font-family="Liberation Sans, Arial, sans-serif" font-size="27.3" font-weight="bold" text-anchor="middle" fill="#000" >B</text>
<text transform="translate(903.0,1124.8) scale(1.049,1.000)" font-family="Liberation Sans, Arial, sans-serif" font-size="27.3" font-weight="bold" text-anchor="middle" fill="#000" >JL</text>
<text transform="translate(0.0,9.3) scale(1.049,1.000)" font-family="Liberation Sans, Arial, sans-serif" font-size="27.3" font-weight="bold" text-anchor="middle" fill="#000" > </text>
<text transform="translate(1000.8,1156.1) scale(1.049,1.000)" font-family="Liberation Sans, Arial, sans-serif" font-size="27.3" font-weight="bold" text-anchor="middle" fill="#000" >A</text>
<text transform="translate(780.1,1156.6) scale(1.049,1.000)" font-family="Liberation Sans, Arial, sans-serif" font-size="27.3" font-weight="bold" text-anchor="middle" fill="#000" >G</text>
<text transform="translate(1315.3,1175.4) scale(1.049,1.000)" font-family="Liberation Sans, Arial, sans-serif" font-size="27.3" font-weight="bold" text-anchor="middle" fill="#000" >D</text>
<text transform="translate(831.9,1190.2) scale(1.049,1.000)" font-family="Liberation Sans, Arial, sans-serif" font-size="27.3" font-weight="bold" text-anchor="middle" fill="#000" >F</text>
<rect x="2.5" y="1300.3" width="667.5" height="371.0" fill="#eaf2f3" />
<rect x="67.3" y="1311.5" width="590.0" height="308.7" fill="#ffffff" />
<line x1="71.3" y1="1325.0" x2="657.3" y2="1325.0" stroke="#e9f1f3" stroke-width="1.3"/>
<line x1="71.3" y1="1396.8" x2="657.3" y2="1396.8" stroke="#e9f1f3" stroke-width="1.3"/>
<line x1="71.3" y1="1468.6" x2="657.3" y2="1468.6" stroke="#e9f1f3" stroke-width="1.3"/>
<line x1="71.3" y1="1540.5" x2="657.3" y2="1540.5" stroke="#e9f1f3" stroke-width="1.3"/>
<line x1="71.3" y1="1612.2" x2="657.3" y2="1612.2" stroke="#e9f1f3" stroke-width="1.3"/>
<line x1="67.3" y1="1311.5" x2="67.3" y2="1621.0" stroke="#1c1c1c" stroke-width="1.6"/>
<line x1="66.5" y1="1620.2" x2="657.3" y2="1620.2" stroke="#1c1c1c" stroke-width="1.6"/>
<line x1="60.8" y1="1325.0" x2="67.3" y2="1325.0" stroke="#1c1c1c" stroke-width="1.3"/>
<text transform="translate(53.9,1325.0) rotate(-90) scale(0.950,1.100)" font-family="Liberation Sans, Arial, sans-serif" font-size="13.5" text-anchor="middle" fill="#0a0a0a" stroke="#0a0a0a" stroke-width="0.3">.01</text>
<line x1="60.8" y1="1396.8" x2="67.3" y2="1396.8" stroke="#1c1c1c" stroke-width="1.3"/>
<text transform="translate(53.9,1396.8) rotate(-90) scale(0.950,1.100)" font-family="Liberation Sans, Arial, sans-serif" font-size="13.5" text-anchor="middle" fill="#0a0a0a" stroke="#0a0a0a" stroke-width="0.3">.005</text>
<line x1="60.8" y1="1468.6" x2="67.3" y2="1468.6" stroke="#1c1c1c" stroke-width="1.3"/>
<text transform="translate(53.9,1468.6) rotate(-90) scale(0.950,1.100)" font-family="Liberation Sans, Arial, sans-serif" font-size="13.5" text-anchor="middle" fill="#0a0a0a" stroke="#0a0a0a" stroke-width="0.3">0</text>
<line x1="60.8" y1="1540.5" x2="67.3" y2="1540.5" stroke="#1c1c1c" stroke-width="1.3"/>
<text transform="translate(53.9,1540.5) rotate(-90) scale(0.950,1.100)" font-family="Liberation Sans, Arial, sans-serif" font-size="13.5" text-anchor="middle" fill="#0a0a0a" stroke="#0a0a0a" stroke-width="0.3">–.005</text>
<line x1="60.8" y1="1612.2" x2="67.3" y2="1612.2" stroke="#1c1c1c" stroke-width="1.3"/>
<text transform="translate(53.9,1612.2) rotate(-90) scale(0.950,1.100)" font-family="Liberation Sans, Arial, sans-serif" font-size="13.5" text-anchor="middle" fill="#0a0a0a" stroke="#0a0a0a" stroke-width="0.3">–.01</text>
<line x1="76.9" y1="1620.2" x2="76.9" y2="1626.7" stroke="#1c1c1c" stroke-width="1.3"/>
<text transform="translate(76.9,1640.2) scale(1.200,1.000)" font-family="Liberation Sans, Arial, sans-serif" font-size="13" text-anchor="middle" fill="#0a0a0a" stroke="#0a0a0a" stroke-width="0.3">0.00</text>
<line x1="191.7" y1="1620.2" x2="191.7" y2="1626.7" stroke="#1c1c1c" stroke-width="1.3"/>
<text transform="translate(191.7,1640.2) scale(1.200,1.000)" font-family="Liberation Sans, Arial, sans-serif" font-size="13" text-anchor="middle" fill="#0a0a0a" stroke="#0a0a0a" stroke-width="0.3">0.20</text>
<line x1="305.3" y1="1620.2" x2="305.3" y2="1626.7" stroke="#1c1c1c" stroke-width="1.3"/>
<text transform="translate(305.3,1640.2) scale(1.200,1.000)" font-family="Liberation Sans, Arial, sans-serif" font-size="13" text-anchor="middle" fill="#0a0a0a" stroke="#0a0a0a" stroke-width="0.3">0.40</text>
<line x1="419.2" y1="1620.2" x2="419.2" y2="1626.7" stroke="#1c1c1c" stroke-width="1.3"/>
<text transform="translate(419.2,1640.2) scale(1.200,1.000)" font-family="Liberation Sans, Arial, sans-serif" font-size="13" text-anchor="middle" fill="#0a0a0a" stroke="#0a0a0a" stroke-width="0.3">0.60</text>
<line x1="532.3" y1="1620.2" x2="532.3" y2="1626.7" stroke="#1c1c1c" stroke-width="1.3"/>
<text transform="translate(532.3,1640.2) scale(1.200,1.000)" font-family="Liberation Sans, Arial, sans-serif" font-size="13" text-anchor="middle" fill="#0a0a0a" stroke="#0a0a0a" stroke-width="0.3">0.80</text>
<line x1="646.0" y1="1620.2" x2="646.0" y2="1626.7" stroke="#1c1c1c" stroke-width="1.3"/>
<text transform="translate(646.0,1640.2) scale(1.200,1.000)" font-family="Liberation Sans, Arial, sans-serif" font-size="13" text-anchor="middle" fill="#0a0a0a" stroke="#0a0a0a" stroke-width="0.3">1.00</text>
<text x="362.0" y="1652.8" font-family="Liberation Sans, Arial, sans-serif" font-size="13" text-anchor="middle" fill="#0a0a0a" textLength="132" lengthAdjust="spacingAndGlyphs" stroke="#0a0a0a" stroke-width="0.3">% Private Rooms</text>
<text transform="translate(35.0,1468.7) scale(1.100,1) rotate(-90)" font-family="Liberation Sans, Arial, sans-serif" font-size="13.5" text-anchor="middle" fill="#0a0a0a" textLength="244" lengthAdjust="spacingAndGlyphs" stroke="#0a0a0a" stroke-width="0.3">Change in MRSA rate per 100 patient-days</text>
<text transform="translate(78.0,1340.0) scale(1.270,1.000)" font-family="Liberation Sans, Arial, sans-serif" font-size="30" font-weight="bold" text-anchor="start" fill="#0a0a0a" >MRSA</text>
<rect x="657.0" y="1441.0" width="4.0" height="37.0" fill="#ffffff" />
<rect x="657.0" y="1481.0" width="4.0" height="20.0" fill="#ffffff" />
<ellipse cx="634.5" cy="1321.2" rx="4.3" ry="3.4" fill="#102b55"/>
<ellipse cx="645.9" cy="1378.7" rx="4.3" ry="3.4" fill="#102b55"/>
<ellipse cx="191.5" cy="1400.5" rx="4.3" ry="3.4" fill="#102b55"/>
<ellipse cx="645.9" cy="1434.5" rx="4.3" ry="3.4" fill="#102b55"/>
<ellipse cx="560.4" cy="1454.5" rx="4.3" ry="3.4" fill="#102b55"/>
<ellipse cx="645.9" cy="1480.7" rx="4.3" ry="3.4" fill="#102b55"/>
<ellipse cx="634.5" cy="1487.5" rx="4.3" ry="3.4" fill="#102b55"/>
<ellipse cx="163.5" cy="1497.8" rx="4.3" ry="3.4" fill="#102b55"/>
<ellipse cx="134.4" cy="1582.0" rx="4.3" ry="3.4" fill="#102b55"/>
<ellipse cx="105.9" cy="1587.2" rx="4.3" ry="3.4" fill="#102b55"/>
<text transform="translate(616.8,1343.8) scale(1.292,1.000)" font-family="Liberation Sans, Arial, sans-serif" font-size="24.675" font-weight="bold" text-anchor="middle" fill="#000" >B</text>
<text transform="translate(630.5,1391.1) scale(1.292,1.000)" font-family="Liberation Sans, Arial, sans-serif" font-size="24.675" font-weight="bold" text-anchor="middle" fill="#000" >I</text>
<text transform="translate(210.9,1422.2) scale(1.292,1.000)" font-family="Liberation Sans, Arial, sans-serif" font-size="24.675" font-weight="bold" text-anchor="middle" fill="#000" >C</text>
<text transform="translate(625.9,1442.9) scale(1.292,1.000)" font-family="Liberation Sans, Arial, sans-serif" font-size="24.675" font-weight="bold" text-anchor="middle" fill="#000" >F</text>
<text transform="translate(537.6,1463.4) scale(1.292,1.000)" font-family="Liberation Sans, Arial, sans-serif" font-size="24.675" font-weight="bold" text-anchor="middle" fill="#000" >G</text>
<text transform="translate(647.6,1473.7) scale(1.292,1.000)" font-family="Liberation Sans, Arial, sans-serif" font-size="24.675" font-weight="bold" text-anchor="middle" fill="#000" >H</text>
<text transform="translate(624.8,1513.0) scale(1.292,1.000)" font-family="Liberation Sans, Arial, sans-serif" font-size="24.675" font-weight="bold" text-anchor="middle" fill="#000" >D</text>
<text transform="translate(186.8,1509.0) scale(1.292,1.000)" font-family="Liberation Sans, Arial, sans-serif" font-size="24.675" font-weight="bold" text-anchor="middle" fill="#000" >A</text>
<text transform="translate(146.4,1597.3) scale(1.292,1.000)" font-family="Liberation Sans, Arial, sans-serif" font-size="24.675" font-weight="bold" text-anchor="middle" fill="#000" >J</text>
<text transform="translate(90.0,1609.8) scale(1.292,1.000)" font-family="Liberation Sans, Arial, sans-serif" font-size="24.675" font-weight="bold" text-anchor="middle" fill="#000" >K</text>
<rect x="695.7" y="1301.2" width="658.3" height="374.5" fill="#eaf2f3" />
<rect x="758.2" y="1312.8" width="578.8" height="312.2" fill="#ffffff" />
<line x1="762.2" y1="1321.5" x2="1337.0" y2="1321.5" stroke="#e9f1f3" stroke-width="1.3"/>
<line x1="762.2" y1="1418.9" x2="1337.0" y2="1418.9" stroke="#e9f1f3" stroke-width="1.3"/>
<line x1="762.2" y1="1516.7" x2="1337.0" y2="1516.7" stroke="#e9f1f3" stroke-width="1.3"/>
<line x1="762.2" y1="1614.5" x2="1337.0" y2="1614.5" stroke="#e9f1f3" stroke-width="1.3"/>
<line x1="758.2" y1="1312.8" x2="758.2" y2="1625.8" stroke="#1c1c1c" stroke-width="1.6"/>
<line x1="757.4" y1="1625.0" x2="1337.0" y2="1625.0" stroke="#1c1c1c" stroke-width="1.6"/>
<line x1="751.7" y1="1321.5" x2="758.2" y2="1321.5" stroke="#1c1c1c" stroke-width="1.3"/>
<text transform="translate(745.5,1321.5) rotate(-90) scale(0.900,1.300)" font-family="Liberation Sans, Arial, sans-serif" font-size="13.5" text-anchor="middle" fill="#0a0a0a" stroke="#0a0a0a" stroke-width="0.3">.1</text>
<line x1="751.7" y1="1418.9" x2="758.2" y2="1418.9" stroke="#1c1c1c" stroke-width="1.3"/>
<text transform="translate(745.5,1418.9) rotate(-90) scale(0.900,1.300)" font-family="Liberation Sans, Arial, sans-serif" font-size="13.5" text-anchor="middle" fill="#0a0a0a" stroke="#0a0a0a" stroke-width="0.3">.05</text>
<line x1="751.7" y1="1516.7" x2="758.2" y2="1516.7" stroke="#1c1c1c" stroke-width="1.3"/>
<text transform="translate(745.5,1516.7) rotate(-90) scale(0.900,1.300)" font-family="Liberation Sans, Arial, sans-serif" font-size="13.5" text-anchor="middle" fill="#0a0a0a" stroke="#0a0a0a" stroke-width="0.3">0</text>
<line x1="751.7" y1="1614.5" x2="758.2" y2="1614.5" stroke="#1c1c1c" stroke-width="1.3"/>
<text transform="translate(745.5,1614.5) rotate(-90) scale(0.900,1.300)" font-family="Liberation Sans, Arial, sans-serif" font-size="13.5" text-anchor="middle" fill="#0a0a0a" stroke="#0a0a0a" stroke-width="0.3">–.05</text>
<line x1="768.5" y1="1625.0" x2="768.5" y2="1631.5" stroke="#1c1c1c" stroke-width="1.3"/>
<text transform="translate(768.5,1645.4) scale(1.300,1.000)" font-family="Liberation Sans, Arial, sans-serif" font-size="13" text-anchor="middle" fill="#0a0a0a" stroke="#0a0a0a" stroke-width="0.3">0.00</text>
<line x1="879.6" y1="1625.0" x2="879.6" y2="1631.5" stroke="#1c1c1c" stroke-width="1.3"/>
<text transform="translate(879.6,1645.4) scale(1.300,1.000)" font-family="Liberation Sans, Arial, sans-serif" font-size="13" text-anchor="middle" fill="#0a0a0a" stroke="#0a0a0a" stroke-width="0.3">0.20</text>
<line x1="991.1" y1="1625.0" x2="991.1" y2="1631.5" stroke="#1c1c1c" stroke-width="1.3"/>
<text transform="translate(991.1,1645.4) scale(1.300,1.000)" font-family="Liberation Sans, Arial, sans-serif" font-size="13" text-anchor="middle" fill="#0a0a0a" stroke="#0a0a0a" stroke-width="0.3">0.40</text>
<line x1="1102.6" y1="1625.0" x2="1102.6" y2="1631.5" stroke="#1c1c1c" stroke-width="1.3"/>
<text transform="translate(1102.6,1645.4) scale(1.300,1.000)" font-family="Liberation Sans, Arial, sans-serif" font-size="13" text-anchor="middle" fill="#0a0a0a" stroke="#0a0a0a" stroke-width="0.3">0.60</text>
<line x1="1214.5" y1="1625.0" x2="1214.5" y2="1631.5" stroke="#1c1c1c" stroke-width="1.3"/>
<text transform="translate(1214.5,1645.4) scale(1.300,1.000)" font-family="Liberation Sans, Arial, sans-serif" font-size="13" text-anchor="middle" fill="#0a0a0a" stroke="#0a0a0a" stroke-width="0.3">0.80</text>
<line x1="1326.1" y1="1625.0" x2="1326.1" y2="1631.5" stroke="#1c1c1c" stroke-width="1.3"/>
<text transform="translate(1326.1,1645.4) scale(1.300,1.000)" font-family="Liberation Sans, Arial, sans-serif" font-size="13" text-anchor="middle" fill="#0a0a0a" stroke="#0a0a0a" stroke-width="0.3">1.00</text>
<text x="1053.7" y="1658.5" font-family="Liberation Sans, Arial, sans-serif" font-size="13" text-anchor="middle" fill="#0a0a0a" textLength="121" lengthAdjust="spacingAndGlyphs" stroke="#0a0a0a" stroke-width="0.3">% Private Rooms</text>
<text transform="translate(724.9,1469.5) scale(1.300,1) rotate(-90)" font-family="Liberation Sans, Arial, sans-serif" font-size="13.5" text-anchor="middle" fill="#0a0a0a" textLength="244" lengthAdjust="spacingAndGlyphs" stroke="#0a0a0a" stroke-width="0.3">Change in VRE rate per 1000 patient-days</text>
<text transform="translate(769.5,1339.5) scale(1.300,1.000)" font-family="Liberation Sans, Arial, sans-serif" font-size="30" font-weight="bold" text-anchor="start" fill="#0a0a0a" >VRE</text>
<rect x="1337.0" y="1463.0" width="5.5" height="19.0" fill="#ffffff" />
<rect x="1337.0" y="1523.0" width="5.5" height="19.0" fill="#ffffff" />
<ellipse cx="796.0" cy="1384.8" rx="4.3" ry="3.4" fill="#102b55"/>
<ellipse cx="1326.1" cy="1395.0" rx="4.3" ry="3.4" fill="#102b55"/>
<ellipse cx="879.6" cy="1418.9" rx="4.3" ry="3.4" fill="#102b55"/>
<ellipse cx="1326.1" cy="1457.6" rx="4.3" ry="3.4" fill="#102b55"/>
<ellipse cx="1314.7" cy="1501.9" rx="4.3" ry="3.4" fill="#102b55"/>
<ellipse cx="1326.1" cy="1516.2" rx="4.3" ry="3.4" fill="#102b55"/>
<ellipse cx="823.9" cy="1516.7" rx="4.3" ry="3.4" fill="#102b55"/>
<ellipse cx="851.8" cy="1562.2" rx="4.3" ry="3.4" fill="#102b55"/>
<ellipse cx="1242.4" cy="1569.5" rx="4.3" ry="3.4" fill="#102b55"/>
<ellipse cx="1314.9" cy="1589.3" rx="4.3" ry="3.4" fill="#102b55"/>
<ellipse cx="1326.0" cy="1616.7" rx="4.3" ry="3.4" fill="#102b55"/>
<text transform="translate(819.4,1397.2) scale(1.292,1.000)" font-family="Liberation Sans, Arial, sans-serif" font-size="24.675" font-weight="bold" text-anchor="middle" fill="#000" >K</text>
<text transform="translate(1311.8,1405.7) scale(1.292,1.000)" font-family="Liberation Sans, Arial, sans-serif" font-size="24.675" font-weight="bold" text-anchor="middle" fill="#000" >I</text>
<text transform="translate(894.4,1442.7) scale(1.292,1.000)" font-family="Liberation Sans, Arial, sans-serif" font-size="24.675" font-weight="bold" text-anchor="middle" fill="#000" >C</text>
<text transform="translate(1306.2,1470.0) scale(1.292,1.000)" font-family="Liberation Sans, Arial, sans-serif" font-size="24.675" font-weight="bold" text-anchor="middle" fill="#000" >H</text>
<text transform="translate(1291.4,1513.7) scale(1.292,1.000)" font-family="Liberation Sans, Arial, sans-serif" font-size="24.675" font-weight="bold" text-anchor="middle" fill="#000" >B</text>
<text transform="translate(1318.7,1541.0) scale(1.292,1.000)" font-family="Liberation Sans, Arial, sans-serif" font-size="24.675" font-weight="bold" text-anchor="middle" fill="#000" >L</text>
<text transform="translate(841.5,1530.2) scale(1.292,1.000)" font-family="Liberation Sans, Arial, sans-serif" font-size="24.675" font-weight="bold" text-anchor="middle" fill="#000" >J</text>
<text transform="translate(871.7,1579.7) scale(1.292,1.000)" font-family="Liberation Sans, Arial, sans-serif" font-size="24.675" font-weight="bold" text-anchor="middle" fill="#000" >A</text>
<text transform="translate(1219.1,1581.2) scale(1.292,1.000)" font-family="Liberation Sans, Arial, sans-serif" font-size="24.675" font-weight="bold" text-anchor="middle" fill="#000" >G</text>
<text transform="translate(1331.0,1585.9) scale(1.292,1.000)" font-family="Liberation Sans, Arial, sans-serif" font-size="24.675" font-weight="bold" text-anchor="middle" fill="#000" >D</text>
<text transform="translate(1308.2,1620.1) scale(1.292,1.000)" font-family="Liberation Sans, Arial, sans-serif" font-size="24.675" font-weight="bold" text-anchor="middle" fill="#000" >F</text>
<rect x="2.0" y="1711.5" width="667.5" height="370.5" fill="#eaf2f3" />
<rect x="63.7" y="1719.5" width="595.7" height="311.1" fill="#ffffff" />
<line x1="67.7" y1="1732.0" x2="659.4" y2="1732.0" stroke="#e9f1f3" stroke-width="1.3"/>
<line x1="67.7" y1="1805.0" x2="659.4" y2="1805.0" stroke="#e9f1f3" stroke-width="1.3"/>
<line x1="67.7" y1="1877.4" x2="659.4" y2="1877.4" stroke="#e9f1f3" stroke-width="1.3"/>
<line x1="67.7" y1="1950.2" x2="659.4" y2="1950.2" stroke="#e9f1f3" stroke-width="1.3"/>
<line x1="67.7" y1="2022.5" x2="659.4" y2="2022.5" stroke="#e9f1f3" stroke-width="1.3"/>
<line x1="63.7" y1="1719.5" x2="63.7" y2="2031.4" stroke="#1c1c1c" stroke-width="1.6"/>
<line x1="62.9" y1="2030.6" x2="659.4" y2="2030.6" stroke="#1c1c1c" stroke-width="1.6"/>
<line x1="57.2" y1="1732.0" x2="63.7" y2="1732.0" stroke="#1c1c1c" stroke-width="1.3"/>
<text transform="translate(51.3,1732.0) rotate(-90) scale(0.950,1.100)" font-family="Liberation Sans, Arial, sans-serif" font-size="13.5" text-anchor="middle" fill="#0a0a0a" stroke="#0a0a0a" stroke-width="0.3">.01</text>
<line x1="57.2" y1="1805.0" x2="63.7" y2="1805.0" stroke="#1c1c1c" stroke-width="1.3"/>
<text transform="translate(51.3,1805.0) rotate(-90) scale(0.950,1.100)" font-family="Liberation Sans, Arial, sans-serif" font-size="13.5" text-anchor="middle" fill="#0a0a0a" stroke="#0a0a0a" stroke-width="0.3">.005</text>
<line x1="57.2" y1="1877.4" x2="63.7" y2="1877.4" stroke="#1c1c1c" stroke-width="1.3"/>
<text transform="translate(51.3,1877.4) rotate(-90) scale(0.950,1.100)" font-family="Liberation Sans, Arial, sans-serif" font-size="13.5" text-anchor="middle" fill="#0a0a0a" stroke="#0a0a0a" stroke-width="0.3">0</text>
<line x1="57.2" y1="1950.2" x2="63.7" y2="1950.2" stroke="#1c1c1c" stroke-width="1.3"/>
<text transform="translate(51.3,1950.2) rotate(-90) scale(0.950,1.100)" font-family="Liberation Sans, Arial, sans-serif" font-size="13.5" text-anchor="middle" fill="#0a0a0a" stroke="#0a0a0a" stroke-width="0.3">–.005</text>
<line x1="57.2" y1="2022.5" x2="63.7" y2="2022.5" stroke="#1c1c1c" stroke-width="1.3"/>
<text transform="translate(51.3,2022.5) rotate(-90) scale(0.950,1.100)" font-family="Liberation Sans, Arial, sans-serif" font-size="13.5" text-anchor="middle" fill="#0a0a0a" stroke="#0a0a0a" stroke-width="0.3">–.01</text>
<line x1="74.0" y1="2030.6" x2="74.0" y2="2037.1" stroke="#1c1c1c" stroke-width="1.3"/>
<text transform="translate(74.0,2052.0) scale(1.200,1.000)" font-family="Liberation Sans, Arial, sans-serif" font-size="13" text-anchor="middle" fill="#0a0a0a" stroke="#0a0a0a" stroke-width="0.3">0</text>
<line x1="217.3" y1="2030.6" x2="217.3" y2="2037.1" stroke="#1c1c1c" stroke-width="1.3"/>
<text transform="translate(217.3,2052.0) scale(1.200,1.000)" font-family="Liberation Sans, Arial, sans-serif" font-size="13" text-anchor="middle" fill="#0a0a0a" stroke="#0a0a0a" stroke-width="0.3">1</text>
<line x1="360.5" y1="2030.6" x2="360.5" y2="2037.1" stroke="#1c1c1c" stroke-width="1.3"/>
<text transform="translate(360.5,2052.0) scale(1.200,1.000)" font-family="Liberation Sans, Arial, sans-serif" font-size="13" text-anchor="middle" fill="#0a0a0a" stroke="#0a0a0a" stroke-width="0.3">2</text>
<line x1="503.5" y1="2030.6" x2="503.5" y2="2037.1" stroke="#1c1c1c" stroke-width="1.3"/>
<text transform="translate(503.5,2052.0) scale(1.200,1.000)" font-family="Liberation Sans, Arial, sans-serif" font-size="13" text-anchor="middle" fill="#0a0a0a" stroke="#0a0a0a" stroke-width="0.3">3</text>
<line x1="647.0" y1="2030.6" x2="647.0" y2="2037.1" stroke="#1c1c1c" stroke-width="1.3"/>
<text transform="translate(647.0,2052.0) scale(1.200,1.000)" font-family="Liberation Sans, Arial, sans-serif" font-size="13" text-anchor="middle" fill="#0a0a0a" stroke="#0a0a0a" stroke-width="0.3">4</text>
<text x="360.5" y="2065.4" font-family="Liberation Sans, Arial, sans-serif" font-size="13" text-anchor="middle" fill="#0a0a0a" textLength="167" lengthAdjust="spacingAndGlyphs" stroke="#0a0a0a" stroke-width="0.3">CHG measures active</text>
<text transform="translate(31.2,1877.3) scale(1.100,1) rotate(-90)" font-family="Liberation Sans, Arial, sans-serif" font-size="13.5" text-anchor="middle" fill="#0a0a0a" textLength="244" lengthAdjust="spacingAndGlyphs" stroke="#0a0a0a" stroke-width="0.3">Change in MRSA rate per 100 patient-days</text>
<text transform="translate(71.0,1743.7) scale(1.620,1.000)" font-family="Liberation Sans, Arial, sans-serif" font-size="23.5" font-weight="bold" text-anchor="start" fill="#0a0a0a" >MRSA</text>
<ellipse cx="217.6" cy="1727.3" rx="4.8" ry="3.4" fill="#102b55"/>
<ellipse cx="647.0" cy="1786.2" rx="4.8" ry="3.4" fill="#102b55"/>
<ellipse cx="360.5" cy="1808.4" rx="4.8" ry="3.4" fill="#102b55"/>
<ellipse cx="217.6" cy="1842.8" rx="4.8" ry="3.4" fill="#102b55"/>
<ellipse cx="360.5" cy="1863.1" rx="4.8" ry="3.4" fill="#102b55"/>
<ellipse cx="217.3" cy="1889.8" rx="4.8" ry="3.4" fill="#102b55"/>
<ellipse cx="503.5" cy="1896.1" rx="4.8" ry="3.4" fill="#102b55"/>
<ellipse cx="647.0" cy="1907.5" rx="4.8" ry="3.4" fill="#102b55"/>
<ellipse cx="503.5" cy="1992.4" rx="4.8" ry="3.4" fill="#102b55"/>
<ellipse cx="74.0" cy="1996.9" rx="4.8" ry="3.4" fill="#102b55"/>
<text transform="translate(240.5,1746.2) scale(1.554,1.000)" font-family="Liberation Sans, Arial, sans-serif" font-size="21.0" font-weight="bold" text-anchor="middle" fill="#000" >B</text>
<text transform="translate(647.6,1812.8) scale(1.554,1.000)" font-family="Liberation Sans, Arial, sans-serif" font-size="21.0" font-weight="bold" text-anchor="middle" fill="#000" >I</text>
<text transform="translate(383.9,1827.0) scale(1.554,1.000)" font-family="Liberation Sans, Arial, sans-serif" font-size="21.0" font-weight="bold" text-anchor="middle" fill="#000" >C</text>
<text transform="translate(240.0,1853.2) scale(1.554,1.000)" font-family="Liberation Sans, Arial, sans-serif" font-size="21.0" font-weight="bold" text-anchor="middle" fill="#000" >F</text>
<text transform="translate(362.8,1888.5) scale(1.554,1.000)" font-family="Liberation Sans, Arial, sans-serif" font-size="21.0" font-weight="bold" text-anchor="middle" fill="#000" >G</text>
<text transform="translate(217.0,1918.1) scale(1.554,1.000)" font-family="Liberation Sans, Arial, sans-serif" font-size="21.0" font-weight="bold" text-anchor="middle" fill="#000" >H</text>
<text transform="translate(526.8,1903.9) scale(1.554,1.000)" font-family="Liberation Sans, Arial, sans-serif" font-size="21.0" font-weight="bold" text-anchor="middle" fill="#000" >D</text>
<text transform="translate(648.1,1934.6) scale(1.554,1.000)" font-family="Liberation Sans, Arial, sans-serif" font-size="21.0" font-weight="bold" text-anchor="middle" fill="#000" >A</text>
<text transform="translate(519.4,2005.8) scale(1.554,1.000)" font-family="Liberation Sans, Arial, sans-serif" font-size="21.0" font-weight="bold" text-anchor="middle" fill="#000" >J</text>
<text transform="translate(95.7,2006.4) scale(1.554,1.000)" font-family="Liberation Sans, Arial, sans-serif" font-size="21.0" font-weight="bold" text-anchor="middle" fill="#000" >K</text>
<rect x="695.0" y="1711.8" width="660.6" height="370.0" fill="#eaf2f3" />
<rect x="759.2" y="1718.3" width="586.1" height="317.2" fill="#ffffff" />
<line x1="763.2" y1="1726.3" x2="1345.3" y2="1726.3" stroke="#e9f1f3" stroke-width="1.3"/>
<line x1="763.2" y1="1825.8" x2="1345.3" y2="1825.8" stroke="#e9f1f3" stroke-width="1.3"/>
<line x1="763.2" y1="1925.3" x2="1345.3" y2="1925.3" stroke="#e9f1f3" stroke-width="1.3"/>
<line x1="763.2" y1="2025.4" x2="1345.3" y2="2025.4" stroke="#e9f1f3" stroke-width="1.3"/>
<line x1="759.2" y1="1718.3" x2="759.2" y2="2036.3" stroke="#1c1c1c" stroke-width="1.6"/>
<line x1="758.4" y1="2035.5" x2="1345.3" y2="2035.5" stroke="#1c1c1c" stroke-width="1.6"/>
<line x1="752.7" y1="1726.3" x2="759.2" y2="1726.3" stroke="#1c1c1c" stroke-width="1.3"/>
<text transform="translate(746.8,1726.3) rotate(-90) scale(0.900,1.300)" font-family="Liberation Sans, Arial, sans-serif" font-size="13.5" text-anchor="middle" fill="#0a0a0a" stroke="#0a0a0a" stroke-width="0.3">.1</text>
<line x1="752.7" y1="1825.8" x2="759.2" y2="1825.8" stroke="#1c1c1c" stroke-width="1.3"/>
<text transform="translate(746.8,1825.8) rotate(-90) scale(0.900,1.300)" font-family="Liberation Sans, Arial, sans-serif" font-size="13.5" text-anchor="middle" fill="#0a0a0a" stroke="#0a0a0a" stroke-width="0.3">.05</text>
<line x1="752.7" y1="1925.3" x2="759.2" y2="1925.3" stroke="#1c1c1c" stroke-width="1.3"/>
<text transform="translate(746.8,1925.3) rotate(-90) scale(0.900,1.300)" font-family="Liberation Sans, Arial, sans-serif" font-size="13.5" text-anchor="middle" fill="#0a0a0a" stroke="#0a0a0a" stroke-width="0.3">0</text>
<line x1="752.7" y1="2025.4" x2="759.2" y2="2025.4" stroke="#1c1c1c" stroke-width="1.3"/>
<text transform="translate(746.8,2025.4) rotate(-90) scale(0.900,1.300)" font-family="Liberation Sans, Arial, sans-serif" font-size="13.5" text-anchor="middle" fill="#0a0a0a" stroke="#0a0a0a" stroke-width="0.3">–.05</text>
<line x1="769.8" y1="2035.5" x2="769.8" y2="2042.0" stroke="#1c1c1c" stroke-width="1.3"/>
<text transform="translate(769.8,2055.7) scale(1.300,1.000)" font-family="Liberation Sans, Arial, sans-serif" font-size="13" text-anchor="middle" fill="#0a0a0a" stroke="#0a0a0a" stroke-width="0.3">0</text>
<line x1="910.3" y1="2035.5" x2="910.3" y2="2042.0" stroke="#1c1c1c" stroke-width="1.3"/>
<text transform="translate(910.3,2055.7) scale(1.300,1.000)" font-family="Liberation Sans, Arial, sans-serif" font-size="13" text-anchor="middle" fill="#0a0a0a" stroke="#0a0a0a" stroke-width="0.3">1</text>
<line x1="1051.4" y1="2035.5" x2="1051.4" y2="2042.0" stroke="#1c1c1c" stroke-width="1.3"/>
<text transform="translate(1051.4,2055.7) scale(1.300,1.000)" font-family="Liberation Sans, Arial, sans-serif" font-size="13" text-anchor="middle" fill="#0a0a0a" stroke="#0a0a0a" stroke-width="0.3">2</text>
<line x1="1192.5" y1="2035.5" x2="1192.5" y2="2042.0" stroke="#1c1c1c" stroke-width="1.3"/>
<text transform="translate(1192.5,2055.7) scale(1.300,1.000)" font-family="Liberation Sans, Arial, sans-serif" font-size="13" text-anchor="middle" fill="#0a0a0a" stroke="#0a0a0a" stroke-width="0.3">3</text>
<line x1="1333.6" y1="2035.5" x2="1333.6" y2="2042.0" stroke="#1c1c1c" stroke-width="1.3"/>
<text transform="translate(1333.6,2055.7) scale(1.300,1.000)" font-family="Liberation Sans, Arial, sans-serif" font-size="13" text-anchor="middle" fill="#0a0a0a" stroke="#0a0a0a" stroke-width="0.3">4</text>
<text x="1051.4" y="2068.8" font-family="Liberation Sans, Arial, sans-serif" font-size="13" text-anchor="middle" fill="#0a0a0a" textLength="160" lengthAdjust="spacingAndGlyphs" stroke="#0a0a0a" stroke-width="0.3">CHG measures active</text>
<text transform="translate(725.4,1879.0) scale(1.300,1) rotate(-90)" font-family="Liberation Sans, Arial, sans-serif" font-size="13.5" text-anchor="middle" fill="#0a0a0a" textLength="247" lengthAdjust="spacingAndGlyphs" stroke="#0a0a0a" stroke-width="0.3">Change in VRE rate per 1000 patient-days</text>
<text transform="translate(777.5,1743.7) scale(1.500,1.000)" font-family="Liberation Sans, Arial, sans-serif" font-size="26" font-weight="bold" text-anchor="start" fill="#0a0a0a" >VRE</text>
<rect x="1345.0" y="1809.0" width="3.5" height="15.0" fill="#ffffff" />
<rect x="1345.0" y="1977.0" width="10.0" height="16.0" fill="#ffffff" />
<ellipse cx="769.9" cy="1790.6" rx="4.8" ry="3.4" fill="#102b55"/>
<ellipse cx="1333.5" cy="1800.8" rx="4.8" ry="3.4" fill="#102b55"/>
<ellipse cx="1051.4" cy="1825.3" rx="4.8" ry="3.4" fill="#102b55"/>
<ellipse cx="910.3" cy="1865.1" rx="4.8" ry="3.4" fill="#102b55"/>
<ellipse cx="910.3" cy="1910.6" rx="4.8" ry="3.4" fill="#102b55"/>
<ellipse cx="1051.4" cy="1925.3" rx="4.8" ry="3.4" fill="#102b55"/>
<ellipse cx="1192.4" cy="1925.3" rx="4.8" ry="3.4" fill="#102b55"/>
<ellipse cx="1333.5" cy="1972.0" rx="4.8" ry="3.4" fill="#102b55"/>
<ellipse cx="1051.4" cy="1978.8" rx="4.8" ry="3.4" fill="#102b55"/>
<ellipse cx="1192.7" cy="1999.0" rx="4.8" ry="3.4" fill="#102b55"/>
<ellipse cx="910.3" cy="2027.1" rx="4.8" ry="3.4" fill="#102b55"/>
<text transform="translate(789.2,1799.5) scale(1.554,1.000)" font-family="Liberation Sans, Arial, sans-serif" font-size="21.0" font-weight="bold" text-anchor="middle" fill="#000" >K</text>
<text transform="translate(1331.7,1827.3) scale(1.554,1.000)" font-family="Liberation Sans, Arial, sans-serif" font-size="21.0" font-weight="bold" text-anchor="middle" fill="#000" >I</text>
<text transform="translate(1074.7,1834.2) scale(1.554,1.000)" font-family="Liberation Sans, Arial, sans-serif" font-size="21.0" font-weight="bold" text-anchor="middle" fill="#000" >C</text>
<text transform="translate(885.3,1876.2) scale(1.554,1.000)" font-family="Liberation Sans, Arial, sans-serif" font-size="21.0" font-weight="bold" text-anchor="middle" fill="#000" >H</text>
<text transform="translate(911.5,1936.5) scale(1.554,1.000)" font-family="Liberation Sans, Arial, sans-serif" font-size="21.0" font-weight="bold" text-anchor="middle" fill="#000" >B</text>
<text transform="translate(1070.7,1941.1) scale(1.554,1.000)" font-family="Liberation Sans, Arial, sans-serif" font-size="21.0" font-weight="bold" text-anchor="middle" fill="#000" >L</text>
<text transform="translate(1208.3,1939.4) scale(1.554,1.000)" font-family="Liberation Sans, Arial, sans-serif" font-size="21.0" font-weight="bold" text-anchor="middle" fill="#000" >J</text>
<text transform="translate(1338.3,2000.6) scale(1.554,1.000)" font-family="Liberation Sans, Arial, sans-serif" font-size="21.0" font-weight="bold" text-anchor="middle" fill="#000" >A</text>
<text transform="translate(1075.3,1994.5) scale(1.554,1.000)" font-family="Liberation Sans, Arial, sans-serif" font-size="21.0" font-weight="bold" text-anchor="middle" fill="#000" >G</text>
<text transform="translate(1212.0,2006.2) scale(1.554,1.000)" font-family="Liberation Sans, Arial, sans-serif" font-size="21.0" font-weight="bold" text-anchor="middle" fill="#000" >D</text>
<text transform="translate(906.9,2020.1) scale(1.554,1.000)" font-family="Liberation Sans, Arial, sans-serif" font-size="21.0" font-weight="bold" text-anchor="middle" fill="#000" >F</text>
<rect x="2.0" y="2126.8" width="661.2" height="368.2" fill="#eaf2f3" />
<rect x="67.0" y="2137.7" width="581.3" height="309.3" fill="#ffffff" />
<line x1="71.0" y1="2150.5" x2="648.3" y2="2150.5" stroke="#e9f1f3" stroke-width="1.3"/>
<line x1="71.0" y1="2222.4" x2="648.3" y2="2222.4" stroke="#e9f1f3" stroke-width="1.3"/>
<line x1="71.0" y1="2294.6" x2="648.3" y2="2294.6" stroke="#e9f1f3" stroke-width="1.3"/>
<line x1="71.0" y1="2366.5" x2="648.3" y2="2366.5" stroke="#e9f1f3" stroke-width="1.3"/>
<line x1="71.0" y1="2438.2" x2="648.3" y2="2438.2" stroke="#e9f1f3" stroke-width="1.3"/>
<line x1="67.0" y1="2137.7" x2="67.0" y2="2447.8" stroke="#1c1c1c" stroke-width="1.6"/>
<line x1="66.2" y1="2447.0" x2="648.3" y2="2447.0" stroke="#1c1c1c" stroke-width="1.6"/>
<line x1="60.5" y1="2150.5" x2="67.0" y2="2150.5" stroke="#1c1c1c" stroke-width="1.3"/>
<text transform="translate(53.9,2150.5) rotate(-90) scale(0.950,1.100)" font-family="Liberation Sans, Arial, sans-serif" font-size="13.5" text-anchor="middle" fill="#0a0a0a" stroke="#0a0a0a" stroke-width="0.3">.01</text>
<line x1="60.5" y1="2222.4" x2="67.0" y2="2222.4" stroke="#1c1c1c" stroke-width="1.3"/>
<text transform="translate(53.9,2222.4) rotate(-90) scale(0.950,1.100)" font-family="Liberation Sans, Arial, sans-serif" font-size="13.5" text-anchor="middle" fill="#0a0a0a" stroke="#0a0a0a" stroke-width="0.3">.005</text>
<line x1="60.5" y1="2294.6" x2="67.0" y2="2294.6" stroke="#1c1c1c" stroke-width="1.3"/>
<text transform="translate(53.9,2294.6) rotate(-90) scale(0.950,1.100)" font-family="Liberation Sans, Arial, sans-serif" font-size="13.5" text-anchor="middle" fill="#0a0a0a" stroke="#0a0a0a" stroke-width="0.3">0</text>
<line x1="60.5" y1="2366.5" x2="67.0" y2="2366.5" stroke="#1c1c1c" stroke-width="1.3"/>
<text transform="translate(53.9,2366.5) rotate(-90) scale(0.950,1.100)" font-family="Liberation Sans, Arial, sans-serif" font-size="13.5" text-anchor="middle" fill="#0a0a0a" stroke="#0a0a0a" stroke-width="0.3">–.005</text>
<line x1="60.5" y1="2438.2" x2="67.0" y2="2438.2" stroke="#1c1c1c" stroke-width="1.3"/>
<text transform="translate(53.9,2438.2) rotate(-90) scale(0.950,1.100)" font-family="Liberation Sans, Arial, sans-serif" font-size="13.5" text-anchor="middle" fill="#0a0a0a" stroke="#0a0a0a" stroke-width="0.3">–.01</text>
<line x1="78.0" y1="2447.0" x2="78.0" y2="2453.5" stroke="#1c1c1c" stroke-width="1.3"/>
<text transform="translate(78.0,2466.2) scale(1.200,1.000)" font-family="Liberation Sans, Arial, sans-serif" font-size="13" text-anchor="middle" fill="#0a0a0a" stroke="#0a0a0a" stroke-width="0.3">0.70</text>
<line x1="264.3" y1="2447.0" x2="264.3" y2="2453.5" stroke="#1c1c1c" stroke-width="1.3"/>
<text transform="translate(264.3,2466.2) scale(1.200,1.000)" font-family="Liberation Sans, Arial, sans-serif" font-size="13" text-anchor="middle" fill="#0a0a0a" stroke="#0a0a0a" stroke-width="0.3">0.80</text>
<line x1="450.5" y1="2447.0" x2="450.5" y2="2453.5" stroke="#1c1c1c" stroke-width="1.3"/>
<text transform="translate(450.5,2466.2) scale(1.200,1.000)" font-family="Liberation Sans, Arial, sans-serif" font-size="13" text-anchor="middle" fill="#0a0a0a" stroke="#0a0a0a" stroke-width="0.3">0.90</text>
<line x1="637.0" y1="2447.0" x2="637.0" y2="2453.5" stroke="#1c1c1c" stroke-width="1.3"/>
<text transform="translate(637.0,2466.2) scale(1.200,1.000)" font-family="Liberation Sans, Arial, sans-serif" font-size="13" text-anchor="middle" fill="#0a0a0a" stroke="#0a0a0a" stroke-width="0.3">1.00</text>
<text x="357.1" y="2478.8" font-family="Liberation Sans, Arial, sans-serif" font-size="13" text-anchor="middle" fill="#0a0a0a" textLength="61.5" lengthAdjust="spacingAndGlyphs" stroke="#0a0a0a" stroke-width="0.3">HH Post</text>
<text transform="translate(34.2,2293.0) scale(1.100,1) rotate(-90)" font-family="Liberation Sans, Arial, sans-serif" font-size="13.5" text-anchor="middle" fill="#0a0a0a" textLength="244" lengthAdjust="spacingAndGlyphs" stroke="#0a0a0a" stroke-width="0.3">Change in MRSA rate per 100 patient-days</text>
<text transform="translate(77.5,2166.2) scale(1.400,1.000)" font-family="Liberation Sans, Arial, sans-serif" font-size="27" font-weight="bold" text-anchor="start" fill="#0a0a0a" >MRSA</text>
<ellipse cx="406.7" cy="2146.1" rx="4.6" ry="3.4" fill="#102b55"/>
<ellipse cx="464.2" cy="2203.6" rx="4.6" ry="3.4" fill="#102b55"/>
<ellipse cx="574.1" cy="2225.8" rx="4.6" ry="3.4" fill="#102b55"/>
<ellipse cx="509.7" cy="2259.4" rx="4.6" ry="3.4" fill="#102b55"/>
<ellipse cx="584.3" cy="2279.9" rx="4.6" ry="3.4" fill="#102b55"/>
<ellipse cx="595.7" cy="2306.7" rx="4.6" ry="3.4" fill="#102b55"/>
<ellipse cx="504.6" cy="2312.9" rx="4.6" ry="3.4" fill="#102b55"/>
<ellipse cx="498.3" cy="2323.8" rx="4.6" ry="3.4" fill="#102b55"/>
<ellipse cx="497.2" cy="2408.6" rx="4.6" ry="3.4" fill="#102b55"/>
<ellipse cx="132.7" cy="2413.2" rx="4.6" ry="3.4" fill="#102b55"/>
<text transform="translate(407.8,2173.7) scale(1.379,1.000)" font-family="Liberation Sans, Arial, sans-serif" font-size="22.575" font-weight="bold" text-anchor="middle" fill="#000" >B</text>
<text transform="translate(480.1,2216.4) scale(1.379,1.000)" font-family="Liberation Sans, Arial, sans-serif" font-size="22.575" font-weight="bold" text-anchor="middle" fill="#000" >I</text>
<text transform="translate(598.6,2234.6) scale(1.379,1.000)" font-family="Liberation Sans, Arial, sans-serif" font-size="22.575" font-weight="bold" text-anchor="middle" fill="#000" >C</text>
<text transform="translate(490.4,2267.1) scale(1.379,1.000)" font-family="Liberation Sans, Arial, sans-serif" font-size="22.575" font-weight="bold" text-anchor="middle" fill="#000" >F</text>
<text transform="translate(608.8,2290.5) scale(1.379,1.000)" font-family="Liberation Sans, Arial, sans-serif" font-size="22.575" font-weight="bold" text-anchor="middle" fill="#000" >G</text>
<text transform="translate(619.1,2323.5) scale(1.379,1.000)" font-family="Liberation Sans, Arial, sans-serif" font-size="22.575" font-weight="bold" text-anchor="middle" fill="#000" >H</text>
<text transform="translate(487.0,2314.4) scale(1.379,1.000)" font-family="Liberation Sans, Arial, sans-serif" font-size="22.575" font-weight="bold" text-anchor="middle" fill="#000" >D</text>
<text transform="translate(499.5,2348.0) scale(1.379,1.000)" font-family="Liberation Sans, Arial, sans-serif" font-size="22.575" font-weight="bold" text-anchor="middle" fill="#000" >A</text>
<text transform="translate(513.2,2426.0) scale(1.379,1.000)" font-family="Liberation Sans, Arial, sans-serif" font-size="22.575" font-weight="bold" text-anchor="middle" fill="#000" >J</text>
<text transform="translate(154.3,2422.0) scale(1.379,1.000)" font-family="Liberation Sans, Arial, sans-serif" font-size="22.575" font-weight="bold" text-anchor="middle" fill="#000" >K</text>
<rect x="695.7" y="2127.0" width="662.8" height="368.0" fill="#eaf2f3" />
<rect x="756.5" y="2133.5" width="585.1" height="315.9" fill="#ffffff" />
<line x1="760.5" y1="2141.8" x2="1341.6" y2="2141.8" stroke="#e9f1f3" stroke-width="1.3"/>
<line x1="760.5" y1="2240.9" x2="1341.6" y2="2240.9" stroke="#e9f1f3" stroke-width="1.3"/>
<line x1="760.5" y1="2339.9" x2="1341.6" y2="2339.9" stroke="#e9f1f3" stroke-width="1.3"/>
<line x1="760.5" y1="2439.3" x2="1341.6" y2="2439.3" stroke="#e9f1f3" stroke-width="1.3"/>
<line x1="756.5" y1="2133.5" x2="756.5" y2="2450.2" stroke="#1c1c1c" stroke-width="1.6"/>
<line x1="755.7" y1="2449.4" x2="1341.6" y2="2449.4" stroke="#1c1c1c" stroke-width="1.6"/>
<line x1="750.0" y1="2141.8" x2="756.5" y2="2141.8" stroke="#1c1c1c" stroke-width="1.3"/>
<text transform="translate(744.3,2141.8) rotate(-90) scale(0.900,1.300)" font-family="Liberation Sans, Arial, sans-serif" font-size="13.5" text-anchor="middle" fill="#0a0a0a" stroke="#0a0a0a" stroke-width="0.3">.1</text>
<line x1="750.0" y1="2240.9" x2="756.5" y2="2240.9" stroke="#1c1c1c" stroke-width="1.3"/>
<text transform="translate(744.3,2240.9) rotate(-90) scale(0.900,1.300)" font-family="Liberation Sans, Arial, sans-serif" font-size="13.5" text-anchor="middle" fill="#0a0a0a" stroke="#0a0a0a" stroke-width="0.3">.05</text>
<line x1="750.0" y1="2339.9" x2="756.5" y2="2339.9" stroke="#1c1c1c" stroke-width="1.3"/>
<text transform="translate(744.3,2339.9) rotate(-90) scale(0.900,1.300)" font-family="Liberation Sans, Arial, sans-serif" font-size="13.5" text-anchor="middle" fill="#0a0a0a" stroke="#0a0a0a" stroke-width="0.3">0</text>
<line x1="750.0" y1="2439.3" x2="756.5" y2="2439.3" stroke="#1c1c1c" stroke-width="1.3"/>
<text transform="translate(744.3,2439.3) rotate(-90) scale(0.900,1.300)" font-family="Liberation Sans, Arial, sans-serif" font-size="13.5" text-anchor="middle" fill="#0a0a0a" stroke="#0a0a0a" stroke-width="0.3">–.05</text>
<line x1="766.3" y1="2449.4" x2="766.3" y2="2455.9" stroke="#1c1c1c" stroke-width="1.3"/>
<text transform="translate(766.3,2468.7) scale(1.300,1.000)" font-family="Liberation Sans, Arial, sans-serif" font-size="13" text-anchor="middle" fill="#0a0a0a" stroke="#0a0a0a" stroke-width="0.3">0.70</text>
<line x1="954.1" y1="2449.4" x2="954.1" y2="2455.9" stroke="#1c1c1c" stroke-width="1.3"/>
<text transform="translate(954.1,2468.7) scale(1.300,1.000)" font-family="Liberation Sans, Arial, sans-serif" font-size="13" text-anchor="middle" fill="#0a0a0a" stroke="#0a0a0a" stroke-width="0.3">0.80</text>
<line x1="1141.8" y1="2449.4" x2="1141.8" y2="2455.9" stroke="#1c1c1c" stroke-width="1.3"/>
<text transform="translate(1141.8,2468.7) scale(1.300,1.000)" font-family="Liberation Sans, Arial, sans-serif" font-size="13" text-anchor="middle" fill="#0a0a0a" stroke="#0a0a0a" stroke-width="0.3">0.90</text>
<line x1="1330.5" y1="2449.4" x2="1330.5" y2="2455.9" stroke="#1c1c1c" stroke-width="1.3"/>
<text transform="translate(1330.5,2468.7) scale(1.300,1.000)" font-family="Liberation Sans, Arial, sans-serif" font-size="13" text-anchor="middle" fill="#0a0a0a" stroke="#0a0a0a" stroke-width="0.3">1.00</text>
<text x="1048.0" y="2481.7" font-family="Liberation Sans, Arial, sans-serif" font-size="13" text-anchor="middle" fill="#0a0a0a" textLength="61.4" lengthAdjust="spacingAndGlyphs" stroke="#0a0a0a" stroke-width="0.3">HH Post</text>
<text transform="translate(723.1,2291.0) scale(1.300,1) rotate(-90)" font-family="Liberation Sans, Arial, sans-serif" font-size="13.5" text-anchor="middle" fill="#0a0a0a" textLength="249" lengthAdjust="spacingAndGlyphs" stroke="#0a0a0a" stroke-width="0.3">Change in VRE rate per 1000 patient-days</text>
<text transform="translate(771.0,2162.5) scale(1.440,1.000)" font-family="Liberation Sans, Arial, sans-serif" font-size="28" font-weight="bold" text-anchor="start" fill="#0a0a0a" >VRE</text>
<ellipse cx="822.2" cy="2205.7" rx="4.6" ry="3.4" fill="#102b55"/>
<ellipse cx="1156.0" cy="2216.5" rx="4.6" ry="3.4" fill="#102b55"/>
<ellipse cx="1267.5" cy="2240.4" rx="4.6" ry="3.4" fill="#102b55"/>
<ellipse cx="1289.1" cy="2280.2" rx="4.6" ry="3.4" fill="#102b55"/>
<ellipse cx="1098.6" cy="2325.1" rx="4.6" ry="3.4" fill="#102b55"/>
<ellipse cx="1088.3" cy="2339.3" rx="4.6" ry="3.4" fill="#102b55"/>
<ellipse cx="1189.6" cy="2339.9" rx="4.6" ry="3.4" fill="#102b55"/>
<ellipse cx="1190.7" cy="2386.5" rx="4.6" ry="3.4" fill="#102b55"/>
<ellipse cx="1277.7" cy="2392.8" rx="4.6" ry="3.4" fill="#102b55"/>
<ellipse cx="1197.0" cy="2413.3" rx="4.6" ry="3.4" fill="#102b55"/>
<ellipse cx="1202.1" cy="2441.1" rx="4.6" ry="3.4" fill="#102b55"/>
<text transform="translate(846.1,2217.9) scale(1.379,1.000)" font-family="Liberation Sans, Arial, sans-serif" font-size="22.575" font-weight="bold" text-anchor="middle" fill="#000" >K</text>
<text transform="translate(1174.8,2228.7) scale(1.379,1.000)" font-family="Liberation Sans, Arial, sans-serif" font-size="22.575" font-weight="bold" text-anchor="middle" fill="#000" >I</text>
<text transform="translate(1289.1,2248.6) scale(1.379,1.000)" font-family="Liberation Sans, Arial, sans-serif" font-size="22.575" font-weight="bold" text-anchor="middle" fill="#000" >C</text>
<text transform="translate(1310.1,2290.2) scale(1.379,1.000)" font-family="Liberation Sans, Arial, sans-serif" font-size="22.575" font-weight="bold" text-anchor="middle" fill="#000" >H</text>
<text transform="translate(1074.7,2320.3) scale(1.379,1.000)" font-family="Liberation Sans, Arial, sans-serif" font-size="22.575" font-weight="bold" text-anchor="middle" fill="#000" >B</text>
<text transform="translate(1076.4,2360.7) scale(1.379,1.000)" font-family="Liberation Sans, Arial, sans-serif" font-size="22.575" font-weight="bold" text-anchor="middle" fill="#000" >L</text>
<text transform="translate(1203.2,2356.1) scale(1.379,1.000)" font-family="Liberation Sans, Arial, sans-serif" font-size="22.575" font-weight="bold" text-anchor="middle" fill="#000" >J</text>
<text transform="translate(1212.9,2397.6) scale(1.379,1.000)" font-family="Liberation Sans, Arial, sans-serif" font-size="22.575" font-weight="bold" text-anchor="middle" fill="#000" >A</text>
<text transform="translate(1299.9,2401.6) scale(1.379,1.000)" font-family="Liberation Sans, Arial, sans-serif" font-size="22.575" font-weight="bold" text-anchor="middle" fill="#000" >G</text>
<text transform="translate(1173.1,2427.2) scale(1.379,1.000)" font-family="Liberation Sans, Arial, sans-serif" font-size="22.575" font-weight="bold" text-anchor="middle" fill="#000" >D</text>
<text transform="translate(1223.1,2446.6) scale(1.379,1.000)" font-family="Liberation Sans, Arial, sans-serif" font-size="22.575" font-weight="bold" text-anchor="middle" fill="#000" >F</text>
</g>
</svg>
</body></html>
